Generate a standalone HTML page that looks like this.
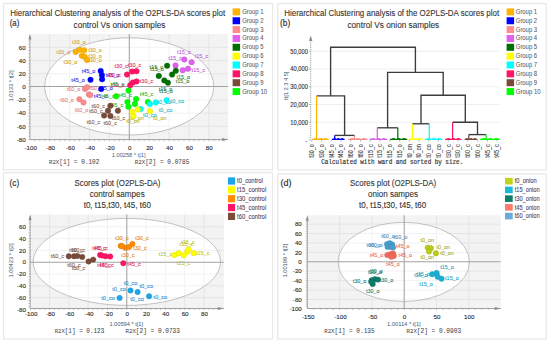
<!DOCTYPE html>
<html><head><meta charset="utf-8"><style>
html,body{margin:0;padding:0;background:#fff;}
body{width:550px;height:344px;overflow:hidden;font-family:"Liberation Sans", sans-serif;}
svg{display:block;}
</style></head><body>
<svg width="550" height="344" viewBox="0 0 550 344">
<rect width="550" height="344" fill="#fff"/>
<rect x="3.5" y="3.5" width="269.0" height="166.3" fill="#fff" stroke="#e8e8e8" stroke-width="1.25" />
<rect x="277.7" y="3.5" width="268.50000000000006" height="166.3" fill="#fff" stroke="#e8e8e8" stroke-width="1.25" />
<rect x="3.5" y="172.6" width="269.0" height="166.4" fill="#fff" stroke="#e8e8e8" stroke-width="1.25" />
<rect x="277.7" y="174" width="268.50000000000006" height="165" fill="#fff" stroke="#e8e8e8" stroke-width="1.25" />
<text x="10.2" y="15.7" font-size="8.3" fill="#333" stroke="#333" stroke-width="0.1" text-anchor="start" font-family='"Liberation Sans", sans-serif' textLength="215" lengthAdjust="spacingAndGlyphs" >Hierarchical Clustering analysis of the O2PLS-DA scores plot</text>
<text x="9.7" y="26.1" font-size="9.4" fill="#2a2a2a" stroke="#2a2a2a" stroke-width="0.15" text-anchor="start" font-family='"Liberation Sans", sans-serif' textLength="9.6" lengthAdjust="spacingAndGlyphs" >(a)</text>
<text x="73.6" y="27.8" font-size="8.3" fill="#333" stroke="#333" stroke-width="0.1" text-anchor="start" font-family='"Liberation Sans", sans-serif' textLength="91.8" lengthAdjust="spacingAndGlyphs" >control Vs onion samples</text>
<rect x="232.6" y="8.4" width="7.5" height="7" fill="#ffb300" stroke="none" stroke-width="1" />
<text x="242.2" y="13.8" font-size="6.4" fill="#5a5a64" stroke="#5a5a64" stroke-width="0.06" text-anchor="start" font-family='"Liberation Sans", sans-serif' textLength="21.3" lengthAdjust="spacingAndGlyphs" >Group 1</text>
<rect x="232.6" y="17.25" width="7.5" height="7" fill="#0000ff" stroke="none" stroke-width="1" />
<text x="242.2" y="22.6" font-size="6.4" fill="#5a5a64" stroke="#5a5a64" stroke-width="0.06" text-anchor="start" font-family='"Liberation Sans", sans-serif' textLength="21.3" lengthAdjust="spacingAndGlyphs" >Group 2</text>
<rect x="232.6" y="26.1" width="7.5" height="7" fill="#ff8c8c" stroke="none" stroke-width="1" />
<text x="242.2" y="31.5" font-size="6.4" fill="#5a5a64" stroke="#5a5a64" stroke-width="0.06" text-anchor="start" font-family='"Liberation Sans", sans-serif' textLength="21.3" lengthAdjust="spacingAndGlyphs" >Group 3</text>
<rect x="232.6" y="34.949999999999996" width="7.5" height="7" fill="#e060f0" stroke="none" stroke-width="1" />
<text x="242.2" y="40.3" font-size="6.4" fill="#5a5a64" stroke="#5a5a64" stroke-width="0.06" text-anchor="start" font-family='"Liberation Sans", sans-serif' textLength="21.3" lengthAdjust="spacingAndGlyphs" >Group 4</text>
<rect x="232.6" y="43.8" width="7.5" height="7" fill="#007000" stroke="none" stroke-width="1" />
<text x="242.2" y="49.2" font-size="6.4" fill="#5a5a64" stroke="#5a5a64" stroke-width="0.06" text-anchor="start" font-family='"Liberation Sans", sans-serif' textLength="21.3" lengthAdjust="spacingAndGlyphs" >Group 5</text>
<rect x="232.6" y="52.65" width="7.5" height="7" fill="#ffff00" stroke="none" stroke-width="1" />
<text x="242.2" y="58.0" font-size="6.4" fill="#5a5a64" stroke="#5a5a64" stroke-width="0.06" text-anchor="start" font-family='"Liberation Sans", sans-serif' textLength="21.3" lengthAdjust="spacingAndGlyphs" >Group 6</text>
<rect x="232.6" y="61.49999999999999" width="7.5" height="7" fill="#00ffff" stroke="none" stroke-width="1" />
<text x="242.2" y="66.9" font-size="6.4" fill="#5a5a64" stroke="#5a5a64" stroke-width="0.06" text-anchor="start" font-family='"Liberation Sans", sans-serif' textLength="21.3" lengthAdjust="spacingAndGlyphs" >Group 7</text>
<rect x="232.6" y="70.35" width="7.5" height="7" fill="#ff1466" stroke="none" stroke-width="1" />
<text x="242.2" y="75.8" font-size="6.4" fill="#5a5a64" stroke="#5a5a64" stroke-width="0.06" text-anchor="start" font-family='"Liberation Sans", sans-serif' textLength="21.3" lengthAdjust="spacingAndGlyphs" >Group 8</text>
<rect x="232.6" y="79.2" width="7.5" height="7" fill="#7b4b3a" stroke="none" stroke-width="1" />
<text x="242.2" y="84.6" font-size="6.4" fill="#5a5a64" stroke="#5a5a64" stroke-width="0.06" text-anchor="start" font-family='"Liberation Sans", sans-serif' textLength="21.3" lengthAdjust="spacingAndGlyphs" >Group 9</text>
<rect x="232.6" y="88.05" width="7.5" height="7" fill="#00ff00" stroke="none" stroke-width="1" />
<text x="242.2" y="93.5" font-size="6.4" fill="#5a5a64" stroke="#5a5a64" stroke-width="0.06" text-anchor="start" font-family='"Liberation Sans", sans-serif' textLength="24.9" lengthAdjust="spacingAndGlyphs" >Group 10</text>
<rect x="29.9" y="34" width="198.1" height="105.6" fill="#f3f3f3" stroke="none" stroke-width="1" />
<line x1="49.70" y1="34.00" x2="49.70" y2="139.60" stroke="#e3e3e3" stroke-width="0.9" />
<line x1="69.60" y1="34.00" x2="69.60" y2="139.60" stroke="#e3e3e3" stroke-width="0.9" />
<line x1="89.50" y1="34.00" x2="89.50" y2="139.60" stroke="#e3e3e3" stroke-width="0.9" />
<line x1="109.40" y1="34.00" x2="109.40" y2="139.60" stroke="#e3e3e3" stroke-width="0.9" />
<line x1="149.20" y1="34.00" x2="149.20" y2="139.60" stroke="#e3e3e3" stroke-width="0.9" />
<line x1="169.10" y1="34.00" x2="169.10" y2="139.60" stroke="#e3e3e3" stroke-width="0.9" />
<line x1="189.00" y1="34.00" x2="189.00" y2="139.60" stroke="#e3e3e3" stroke-width="0.9" />
<line x1="208.90" y1="34.00" x2="208.90" y2="139.60" stroke="#e3e3e3" stroke-width="0.9" />
<line x1="29.90" y1="126.40" x2="228.00" y2="126.40" stroke="#e3e3e3" stroke-width="0.9" />
<line x1="29.90" y1="113.23" x2="228.00" y2="113.23" stroke="#e3e3e3" stroke-width="0.9" />
<line x1="29.90" y1="100.07" x2="228.00" y2="100.07" stroke="#e3e3e3" stroke-width="0.9" />
<line x1="29.90" y1="73.73" x2="228.00" y2="73.73" stroke="#e3e3e3" stroke-width="0.9" />
<line x1="29.90" y1="60.57" x2="228.00" y2="60.57" stroke="#e3e3e3" stroke-width="0.9" />
<line x1="29.90" y1="47.40" x2="228.00" y2="47.40" stroke="#e3e3e3" stroke-width="0.9" />
<clipPath id="ec1"><ellipse cx="129.2" cy="86.4" rx="84.5" ry="48.6"/></clipPath>
<ellipse cx="129.2" cy="86.4" rx="84.5" ry="48.6" fill="#fff"/>
<g clip-path="url(#ec1)">
<line x1="49.70" y1="34.00" x2="49.70" y2="139.60" stroke="#f1f1f1" stroke-width="0.9" />
<line x1="69.60" y1="34.00" x2="69.60" y2="139.60" stroke="#f1f1f1" stroke-width="0.9" />
<line x1="89.50" y1="34.00" x2="89.50" y2="139.60" stroke="#f1f1f1" stroke-width="0.9" />
<line x1="109.40" y1="34.00" x2="109.40" y2="139.60" stroke="#f1f1f1" stroke-width="0.9" />
<line x1="149.20" y1="34.00" x2="149.20" y2="139.60" stroke="#f1f1f1" stroke-width="0.9" />
<line x1="169.10" y1="34.00" x2="169.10" y2="139.60" stroke="#f1f1f1" stroke-width="0.9" />
<line x1="189.00" y1="34.00" x2="189.00" y2="139.60" stroke="#f1f1f1" stroke-width="0.9" />
<line x1="208.90" y1="34.00" x2="208.90" y2="139.60" stroke="#f1f1f1" stroke-width="0.9" />
<line x1="29.90" y1="126.40" x2="228.00" y2="126.40" stroke="#f1f1f1" stroke-width="0.9" />
<line x1="29.90" y1="113.23" x2="228.00" y2="113.23" stroke="#f1f1f1" stroke-width="0.9" />
<line x1="29.90" y1="100.07" x2="228.00" y2="100.07" stroke="#f1f1f1" stroke-width="0.9" />
<line x1="29.90" y1="73.73" x2="228.00" y2="73.73" stroke="#f1f1f1" stroke-width="0.9" />
<line x1="29.90" y1="60.57" x2="228.00" y2="60.57" stroke="#f1f1f1" stroke-width="0.9" />
<line x1="29.90" y1="47.40" x2="228.00" y2="47.40" stroke="#f1f1f1" stroke-width="0.9" />
</g>
<ellipse cx="129.2" cy="86.4" rx="84.5" ry="48.6" fill="none" stroke="#bababa" stroke-width="0.9"/>
<line x1="129.30" y1="34.00" x2="129.30" y2="139.60" stroke="#a2a2a2" stroke-width="1.05" />
<line x1="29.90" y1="86.50" x2="228.00" y2="86.50" stroke="#a2a2a2" stroke-width="1.05" />
<line x1="29.90" y1="36.00" x2="29.90" y2="139.60" stroke="#8c8c8c" stroke-width="0.8" />
<line x1="29.90" y1="139.60" x2="228.00" y2="139.60" stroke="#8c8c8c" stroke-width="0.8" />
<path d="M28.4,39.5 L29.9,34 L31.4,39.5 Z" fill="#8c8c8c"/>
<path d="M222.0,138.1 L228.0,139.6 L222.0,141.1 Z" fill="#8c8c8c"/>
<line x1="34.78" y1="139.60" x2="34.78" y2="141.20" stroke="#a0a0a0" stroke-width="0.6" />
<line x1="39.75" y1="139.60" x2="39.75" y2="141.20" stroke="#a0a0a0" stroke-width="0.6" />
<line x1="44.73" y1="139.60" x2="44.73" y2="141.20" stroke="#a0a0a0" stroke-width="0.6" />
<line x1="49.70" y1="139.60" x2="49.70" y2="141.20" stroke="#a0a0a0" stroke-width="0.6" />
<line x1="54.68" y1="139.60" x2="54.68" y2="141.20" stroke="#a0a0a0" stroke-width="0.6" />
<line x1="59.65" y1="139.60" x2="59.65" y2="141.20" stroke="#a0a0a0" stroke-width="0.6" />
<line x1="64.63" y1="139.60" x2="64.63" y2="141.20" stroke="#a0a0a0" stroke-width="0.6" />
<line x1="69.60" y1="139.60" x2="69.60" y2="141.20" stroke="#a0a0a0" stroke-width="0.6" />
<line x1="74.58" y1="139.60" x2="74.58" y2="141.20" stroke="#a0a0a0" stroke-width="0.6" />
<line x1="79.55" y1="139.60" x2="79.55" y2="141.20" stroke="#a0a0a0" stroke-width="0.6" />
<line x1="84.53" y1="139.60" x2="84.53" y2="141.20" stroke="#a0a0a0" stroke-width="0.6" />
<line x1="89.50" y1="139.60" x2="89.50" y2="141.20" stroke="#a0a0a0" stroke-width="0.6" />
<line x1="94.48" y1="139.60" x2="94.48" y2="141.20" stroke="#a0a0a0" stroke-width="0.6" />
<line x1="99.45" y1="139.60" x2="99.45" y2="141.20" stroke="#a0a0a0" stroke-width="0.6" />
<line x1="104.43" y1="139.60" x2="104.43" y2="141.20" stroke="#a0a0a0" stroke-width="0.6" />
<line x1="109.40" y1="139.60" x2="109.40" y2="141.20" stroke="#a0a0a0" stroke-width="0.6" />
<line x1="114.38" y1="139.60" x2="114.38" y2="141.20" stroke="#a0a0a0" stroke-width="0.6" />
<line x1="119.35" y1="139.60" x2="119.35" y2="141.20" stroke="#a0a0a0" stroke-width="0.6" />
<line x1="124.33" y1="139.60" x2="124.33" y2="141.20" stroke="#a0a0a0" stroke-width="0.6" />
<line x1="129.30" y1="139.60" x2="129.30" y2="141.20" stroke="#a0a0a0" stroke-width="0.6" />
<line x1="134.28" y1="139.60" x2="134.28" y2="141.20" stroke="#a0a0a0" stroke-width="0.6" />
<line x1="139.25" y1="139.60" x2="139.25" y2="141.20" stroke="#a0a0a0" stroke-width="0.6" />
<line x1="144.23" y1="139.60" x2="144.23" y2="141.20" stroke="#a0a0a0" stroke-width="0.6" />
<line x1="149.20" y1="139.60" x2="149.20" y2="141.20" stroke="#a0a0a0" stroke-width="0.6" />
<line x1="154.18" y1="139.60" x2="154.18" y2="141.20" stroke="#a0a0a0" stroke-width="0.6" />
<line x1="159.15" y1="139.60" x2="159.15" y2="141.20" stroke="#a0a0a0" stroke-width="0.6" />
<line x1="164.12" y1="139.60" x2="164.12" y2="141.20" stroke="#a0a0a0" stroke-width="0.6" />
<line x1="169.10" y1="139.60" x2="169.10" y2="141.20" stroke="#a0a0a0" stroke-width="0.6" />
<line x1="174.08" y1="139.60" x2="174.08" y2="141.20" stroke="#a0a0a0" stroke-width="0.6" />
<line x1="179.05" y1="139.60" x2="179.05" y2="141.20" stroke="#a0a0a0" stroke-width="0.6" />
<line x1="184.03" y1="139.60" x2="184.03" y2="141.20" stroke="#a0a0a0" stroke-width="0.6" />
<line x1="189.00" y1="139.60" x2="189.00" y2="141.20" stroke="#a0a0a0" stroke-width="0.6" />
<line x1="193.98" y1="139.60" x2="193.98" y2="141.20" stroke="#a0a0a0" stroke-width="0.6" />
<line x1="198.95" y1="139.60" x2="198.95" y2="141.20" stroke="#a0a0a0" stroke-width="0.6" />
<line x1="203.93" y1="139.60" x2="203.93" y2="141.20" stroke="#a0a0a0" stroke-width="0.6" />
<line x1="208.90" y1="139.60" x2="208.90" y2="141.20" stroke="#a0a0a0" stroke-width="0.6" />
<line x1="213.88" y1="139.60" x2="213.88" y2="141.20" stroke="#a0a0a0" stroke-width="0.6" />
<line x1="218.85" y1="139.60" x2="218.85" y2="141.20" stroke="#a0a0a0" stroke-width="0.6" />
<line x1="223.83" y1="139.60" x2="223.83" y2="141.20" stroke="#a0a0a0" stroke-width="0.6" />
<line x1="28.30" y1="139.56" x2="29.90" y2="139.56" stroke="#a0a0a0" stroke-width="0.6" />
<line x1="28.30" y1="136.27" x2="29.90" y2="136.27" stroke="#a0a0a0" stroke-width="0.6" />
<line x1="28.30" y1="132.98" x2="29.90" y2="132.98" stroke="#a0a0a0" stroke-width="0.6" />
<line x1="28.30" y1="129.69" x2="29.90" y2="129.69" stroke="#a0a0a0" stroke-width="0.6" />
<line x1="28.30" y1="126.40" x2="29.90" y2="126.40" stroke="#a0a0a0" stroke-width="0.6" />
<line x1="28.30" y1="123.11" x2="29.90" y2="123.11" stroke="#a0a0a0" stroke-width="0.6" />
<line x1="28.30" y1="119.81" x2="29.90" y2="119.81" stroke="#a0a0a0" stroke-width="0.6" />
<line x1="28.30" y1="116.52" x2="29.90" y2="116.52" stroke="#a0a0a0" stroke-width="0.6" />
<line x1="28.30" y1="113.23" x2="29.90" y2="113.23" stroke="#a0a0a0" stroke-width="0.6" />
<line x1="28.30" y1="109.94" x2="29.90" y2="109.94" stroke="#a0a0a0" stroke-width="0.6" />
<line x1="28.30" y1="106.65" x2="29.90" y2="106.65" stroke="#a0a0a0" stroke-width="0.6" />
<line x1="28.30" y1="103.36" x2="29.90" y2="103.36" stroke="#a0a0a0" stroke-width="0.6" />
<line x1="28.30" y1="100.07" x2="29.90" y2="100.07" stroke="#a0a0a0" stroke-width="0.6" />
<line x1="28.30" y1="96.77" x2="29.90" y2="96.77" stroke="#a0a0a0" stroke-width="0.6" />
<line x1="28.30" y1="93.48" x2="29.90" y2="93.48" stroke="#a0a0a0" stroke-width="0.6" />
<line x1="28.30" y1="90.19" x2="29.90" y2="90.19" stroke="#a0a0a0" stroke-width="0.6" />
<line x1="28.30" y1="86.90" x2="29.90" y2="86.90" stroke="#a0a0a0" stroke-width="0.6" />
<line x1="28.30" y1="83.61" x2="29.90" y2="83.61" stroke="#a0a0a0" stroke-width="0.6" />
<line x1="28.30" y1="80.32" x2="29.90" y2="80.32" stroke="#a0a0a0" stroke-width="0.6" />
<line x1="28.30" y1="77.03" x2="29.90" y2="77.03" stroke="#a0a0a0" stroke-width="0.6" />
<line x1="28.30" y1="73.73" x2="29.90" y2="73.73" stroke="#a0a0a0" stroke-width="0.6" />
<line x1="28.30" y1="70.44" x2="29.90" y2="70.44" stroke="#a0a0a0" stroke-width="0.6" />
<line x1="28.30" y1="67.15" x2="29.90" y2="67.15" stroke="#a0a0a0" stroke-width="0.6" />
<line x1="28.30" y1="63.86" x2="29.90" y2="63.86" stroke="#a0a0a0" stroke-width="0.6" />
<line x1="28.30" y1="60.57" x2="29.90" y2="60.57" stroke="#a0a0a0" stroke-width="0.6" />
<line x1="28.30" y1="57.28" x2="29.90" y2="57.28" stroke="#a0a0a0" stroke-width="0.6" />
<line x1="28.30" y1="53.99" x2="29.90" y2="53.99" stroke="#a0a0a0" stroke-width="0.6" />
<line x1="28.30" y1="50.69" x2="29.90" y2="50.69" stroke="#a0a0a0" stroke-width="0.6" />
<line x1="28.30" y1="47.40" x2="29.90" y2="47.40" stroke="#a0a0a0" stroke-width="0.6" />
<line x1="28.30" y1="44.11" x2="29.90" y2="44.11" stroke="#a0a0a0" stroke-width="0.6" />
<line x1="28.30" y1="40.82" x2="29.90" y2="40.82" stroke="#a0a0a0" stroke-width="0.6" />
<text x="30.7" y="150.4" font-size="6.2" fill="#2c2c2c" stroke="#2c2c2c" stroke-width="0.12" text-anchor="middle" font-family='"Liberation Sans", sans-serif' >-100</text>
<text x="50.6" y="150.4" font-size="6.2" fill="#2c2c2c" stroke="#2c2c2c" stroke-width="0.12" text-anchor="middle" font-family='"Liberation Sans", sans-serif' >-80</text>
<text x="70.5" y="150.4" font-size="6.2" fill="#2c2c2c" stroke="#2c2c2c" stroke-width="0.12" text-anchor="middle" font-family='"Liberation Sans", sans-serif' >-60</text>
<text x="90.4" y="150.4" font-size="6.2" fill="#2c2c2c" stroke="#2c2c2c" stroke-width="0.12" text-anchor="middle" font-family='"Liberation Sans", sans-serif' >-40</text>
<text x="110.3" y="150.4" font-size="6.2" fill="#2c2c2c" stroke="#2c2c2c" stroke-width="0.12" text-anchor="middle" font-family='"Liberation Sans", sans-serif' >-20</text>
<text x="129.7" y="150.4" font-size="6.2" fill="#2c2c2c" stroke="#2c2c2c" stroke-width="0.12" text-anchor="middle" font-family='"Liberation Sans", sans-serif' >0</text>
<text x="149.6" y="150.4" font-size="6.2" fill="#2c2c2c" stroke="#2c2c2c" stroke-width="0.12" text-anchor="middle" font-family='"Liberation Sans", sans-serif' >20</text>
<text x="169.5" y="150.4" font-size="6.2" fill="#2c2c2c" stroke="#2c2c2c" stroke-width="0.12" text-anchor="middle" font-family='"Liberation Sans", sans-serif' >40</text>
<text x="189.4" y="150.4" font-size="6.2" fill="#2c2c2c" stroke="#2c2c2c" stroke-width="0.12" text-anchor="middle" font-family='"Liberation Sans", sans-serif' >60</text>
<text x="209.3" y="150.4" font-size="6.2" fill="#2c2c2c" stroke="#2c2c2c" stroke-width="0.12" text-anchor="middle" font-family='"Liberation Sans", sans-serif' >80</text>
<text x="25.6" y="49.5" font-size="6.2" fill="#2c2c2c" stroke="#2c2c2c" stroke-width="0.12" text-anchor="end" font-family='"Liberation Sans", sans-serif' >60</text>
<text x="25.6" y="62.7" font-size="6.2" fill="#2c2c2c" stroke="#2c2c2c" stroke-width="0.12" text-anchor="end" font-family='"Liberation Sans", sans-serif' >40</text>
<text x="25.6" y="75.8" font-size="6.2" fill="#2c2c2c" stroke="#2c2c2c" stroke-width="0.12" text-anchor="end" font-family='"Liberation Sans", sans-serif' >20</text>
<text x="25.6" y="89.0" font-size="6.2" fill="#2c2c2c" stroke="#2c2c2c" stroke-width="0.12" text-anchor="end" font-family='"Liberation Sans", sans-serif' >0</text>
<text x="25.6" y="102.2" font-size="6.2" fill="#2c2c2c" stroke="#2c2c2c" stroke-width="0.12" text-anchor="end" font-family='"Liberation Sans", sans-serif' >-20</text>
<text x="25.6" y="115.3" font-size="6.2" fill="#2c2c2c" stroke="#2c2c2c" stroke-width="0.12" text-anchor="end" font-family='"Liberation Sans", sans-serif' >-40</text>
<text x="25.6" y="128.5" font-size="6.2" fill="#2c2c2c" stroke="#2c2c2c" stroke-width="0.12" text-anchor="end" font-family='"Liberation Sans", sans-serif' >-60</text>
<text x="25.6" y="141.7" font-size="6.2" fill="#2c2c2c" stroke="#2c2c2c" stroke-width="0.12" text-anchor="end" font-family='"Liberation Sans", sans-serif' >-80</text>
<text x="111.8" y="157" font-size="5.6" fill="#4a5a7a" text-anchor="start" font-family='"Liberation Sans", sans-serif' textLength="33.7" lengthAdjust="spacingAndGlyphs" >1.00258 * t[1]</text>
<text transform="translate(13.2,86) rotate(-90)" font-size="5.4" fill="#2a5070" text-anchor="middle" font-family='"Liberation Sans", sans-serif' textLength="31" lengthAdjust="spacingAndGlyphs">1.0133 * t[2]</text>
<text x="49" y="163.5" font-size="6.3" fill="#4a4a4a" stroke="#4a4a4a" stroke-width="0.05" font-family='"Liberation Mono", monospace' textLength="50.4" lengthAdjust="spacingAndGlyphs"><tspan font-size="5.9">R2X</tspan>[1] = 0.102</text>
<text x="134.8" y="163.5" font-size="6.3" fill="#4a4a4a" stroke="#4a4a4a" stroke-width="0.05" font-family='"Liberation Mono", monospace' textLength="54.6" lengthAdjust="spacingAndGlyphs"><tspan font-size="5.9">R2X</tspan>[2] = 0.0785</text>
<text x="78.9" y="44.4" font-size="6.2" fill="#d4a020" stroke="#d4a020" stroke-width="0.08" text-anchor="middle" font-family='"Liberation Sans", sans-serif' textLength="13.6" lengthAdjust="spacingAndGlyphs" >t30_o</text>
<text x="63.4" y="53.5" font-size="6.2" fill="#d4a020" stroke="#d4a020" stroke-width="0.08" text-anchor="middle" font-family='"Liberation Sans", sans-serif' textLength="13.6" lengthAdjust="spacingAndGlyphs" >t30_o</text>
<text x="95.0" y="52.2" font-size="6.2" fill="#d4a020" stroke="#d4a020" stroke-width="0.08" text-anchor="middle" font-family='"Liberation Sans", sans-serif' textLength="13.6" lengthAdjust="spacingAndGlyphs" >t30_o</text>
<text x="70.4" y="64.4" font-size="6.2" fill="#d4a020" stroke="#d4a020" stroke-width="0.08" text-anchor="middle" font-family='"Liberation Sans", sans-serif' textLength="13.6" lengthAdjust="spacingAndGlyphs" >t30_o</text>
<text x="95.0" y="57.9" font-size="6.2" fill="#d4a020" stroke="#d4a020" stroke-width="0.08" text-anchor="middle" font-family='"Liberation Sans", sans-serif' textLength="13.6" lengthAdjust="spacingAndGlyphs" >t30_o</text>
<text x="95.0" y="61.9" font-size="6.2" fill="#d4a020" stroke="#d4a020" stroke-width="0.08" text-anchor="middle" font-family='"Liberation Sans", sans-serif' textLength="13.6" lengthAdjust="spacingAndGlyphs" >t30_o</text>
<text x="88.6" y="73.0" font-size="6.2" fill="#2020ee" stroke="#2020ee" stroke-width="0.08" text-anchor="middle" font-family='"Liberation Sans", sans-serif' textLength="13.6" lengthAdjust="spacingAndGlyphs" >t45_o</text>
<text x="78.0" y="81.9" font-size="6.2" fill="#2020ee" stroke="#2020ee" stroke-width="0.08" text-anchor="middle" font-family='"Liberation Sans", sans-serif' textLength="13.6" lengthAdjust="spacingAndGlyphs" >t45_o</text>
<text x="112.6" y="77.0" font-size="6.2" fill="#2020ee" stroke="#2020ee" stroke-width="0.08" text-anchor="middle" font-family='"Liberation Sans", sans-serif' textLength="13.6" lengthAdjust="spacingAndGlyphs" >t45_o</text>
<text x="100.5" y="97.8" font-size="6.2" fill="#2020ee" stroke="#2020ee" stroke-width="0.08" text-anchor="middle" font-family='"Liberation Sans", sans-serif' textLength="13.6" lengthAdjust="spacingAndGlyphs" >t45_o</text>
<text x="106.0" y="90.2" font-size="6.2" fill="#2020ee" stroke="#2020ee" stroke-width="0.08" text-anchor="middle" font-family='"Liberation Sans", sans-serif' textLength="13.6" lengthAdjust="spacingAndGlyphs" >t45_o</text>
<text x="96.0" y="89.7" font-size="6.2" fill="#e08080" stroke="#e08080" stroke-width="0.08" text-anchor="middle" font-family='"Liberation Sans", sans-serif' textLength="13.6" lengthAdjust="spacingAndGlyphs" >t60_o</text>
<text x="73.6" y="91.3" font-size="6.2" fill="#e08080" stroke="#e08080" stroke-width="0.08" text-anchor="middle" font-family='"Liberation Sans", sans-serif' textLength="13.6" lengthAdjust="spacingAndGlyphs" >t60_o</text>
<text x="67.0" y="101.5" font-size="6.2" fill="#e08080" stroke="#e08080" stroke-width="0.08" text-anchor="middle" font-family='"Liberation Sans", sans-serif' textLength="13.6" lengthAdjust="spacingAndGlyphs" >t60_o</text>
<text x="81.6" y="112.1" font-size="6.2" fill="#e08080" stroke="#e08080" stroke-width="0.08" text-anchor="middle" font-family='"Liberation Sans", sans-serif' textLength="13.6" lengthAdjust="spacingAndGlyphs" >t60_o</text>
<text x="183.9" y="53.8" font-size="6.2" fill="#c050d8" stroke="#c050d8" stroke-width="0.08" text-anchor="middle" font-family='"Liberation Sans", sans-serif' textLength="13.6" lengthAdjust="spacingAndGlyphs" >t15_c</text>
<text x="201.4" y="57.9" font-size="6.2" fill="#c050d8" stroke="#c050d8" stroke-width="0.08" text-anchor="middle" font-family='"Liberation Sans", sans-serif' textLength="13.6" lengthAdjust="spacingAndGlyphs" >t15_c</text>
<text x="175.2" y="60.1" font-size="6.2" fill="#c050d8" stroke="#c050d8" stroke-width="0.08" text-anchor="middle" font-family='"Liberation Sans", sans-serif' textLength="13.6" lengthAdjust="spacingAndGlyphs" >t15_c</text>
<text x="198.4" y="71.7" font-size="6.2" fill="#c050d8" stroke="#c050d8" stroke-width="0.08" text-anchor="middle" font-family='"Liberation Sans", sans-serif' textLength="13.6" lengthAdjust="spacingAndGlyphs" >t15_c</text>
<text x="156.4" y="68.9" font-size="6.2" fill="#2a7a2a" stroke="#2a7a2a" stroke-width="0.08" text-anchor="middle" font-family='"Liberation Sans", sans-serif' textLength="13.6" lengthAdjust="spacingAndGlyphs" >t15_o</text>
<text x="157.0" y="71.4" font-size="6.2" fill="#2a7a2a" stroke="#2a7a2a" stroke-width="0.08" text-anchor="middle" font-family='"Liberation Sans", sans-serif' textLength="13.6" lengthAdjust="spacingAndGlyphs" >t15_o</text>
<text x="183.2" y="79.4" font-size="6.2" fill="#2a7a2a" stroke="#2a7a2a" stroke-width="0.08" text-anchor="middle" font-family='"Liberation Sans", sans-serif' textLength="13.6" lengthAdjust="spacingAndGlyphs" >t15_o</text>
<text x="182.5" y="82.9" font-size="6.2" fill="#2a7a2a" stroke="#2a7a2a" stroke-width="0.08" text-anchor="middle" font-family='"Liberation Sans", sans-serif' textLength="13.6" lengthAdjust="spacingAndGlyphs" >t15_o</text>
<text x="165.6" y="91.2" font-size="6.2" fill="#2a7a2a" stroke="#2a7a2a" stroke-width="0.08" text-anchor="middle" font-family='"Liberation Sans", sans-serif' textLength="13.6" lengthAdjust="spacingAndGlyphs" >t15_o</text>
<text x="166.0" y="93.4" font-size="6.2" fill="#2a7a2a" stroke="#2a7a2a" stroke-width="0.08" text-anchor="middle" font-family='"Liberation Sans", sans-serif' textLength="13.6" lengthAdjust="spacingAndGlyphs" >t15_o</text>
<text x="121.3" y="67.7" font-size="6.2" fill="#e0205a" stroke="#e0205a" stroke-width="0.08" text-anchor="middle" font-family='"Liberation Sans", sans-serif' textLength="13.6" lengthAdjust="spacingAndGlyphs" >t30_c</text>
<text x="134.6" y="66.6" font-size="6.2" fill="#e0205a" stroke="#e0205a" stroke-width="0.08" text-anchor="middle" font-family='"Liberation Sans", sans-serif' textLength="13.6" lengthAdjust="spacingAndGlyphs" >t30_c</text>
<text x="114.0" y="77.4" font-size="6.2" fill="#e0205a" stroke="#e0205a" stroke-width="0.08" text-anchor="middle" font-family='"Liberation Sans", sans-serif' textLength="13.6" lengthAdjust="spacingAndGlyphs" >t30_c</text>
<text x="146.6" y="83.3" font-size="6.2" fill="#e0205a" stroke="#e0205a" stroke-width="0.08" text-anchor="middle" font-family='"Liberation Sans", sans-serif' textLength="13.6" lengthAdjust="spacingAndGlyphs" >t30_c</text>
<text x="118.0" y="87.2" font-size="6.2" fill="#e0205a" stroke="#e0205a" stroke-width="0.08" text-anchor="middle" font-family='"Liberation Sans", sans-serif' textLength="13.6" lengthAdjust="spacingAndGlyphs" >t30_c</text>
<text x="98.3" y="108.0" font-size="6.2" fill="#7a5a4a" stroke="#7a5a4a" stroke-width="0.08" text-anchor="middle" font-family='"Liberation Sans", sans-serif' textLength="13.6" lengthAdjust="spacingAndGlyphs" >t60_c</text>
<text x="96.1" y="112.8" font-size="6.2" fill="#7a5a4a" stroke="#7a5a4a" stroke-width="0.08" text-anchor="middle" font-family='"Liberation Sans", sans-serif' textLength="13.6" lengthAdjust="spacingAndGlyphs" >t60_c</text>
<text x="93.6" y="123.9" font-size="6.2" fill="#7a5a4a" stroke="#7a5a4a" stroke-width="0.08" text-anchor="middle" font-family='"Liberation Sans", sans-serif' textLength="13.6" lengthAdjust="spacingAndGlyphs" >t60_c</text>
<text x="110.2" y="124.9" font-size="6.2" fill="#7a5a4a" stroke="#7a5a4a" stroke-width="0.08" text-anchor="middle" font-family='"Liberation Sans", sans-serif' textLength="13.6" lengthAdjust="spacingAndGlyphs" >t60_c</text>
<text x="118.6" y="120.3" font-size="6.2" fill="#7a5a4a" stroke="#7a5a4a" stroke-width="0.08" text-anchor="middle" font-family='"Liberation Sans", sans-serif' textLength="13.6" lengthAdjust="spacingAndGlyphs" >t60_c</text>
<text x="117.2" y="85.7" font-size="6.2" fill="#20b020" stroke="#20b020" stroke-width="0.08" text-anchor="middle" font-family='"Liberation Sans", sans-serif' textLength="13.6" lengthAdjust="spacingAndGlyphs" >t45_c</text>
<text x="125.2" y="97.1" font-size="6.2" fill="#20b020" stroke="#20b020" stroke-width="0.08" text-anchor="middle" font-family='"Liberation Sans", sans-serif' textLength="13.6" lengthAdjust="spacingAndGlyphs" >t45_c</text>
<text x="116.5" y="107.2" font-size="6.2" fill="#20b020" stroke="#20b020" stroke-width="0.08" text-anchor="middle" font-family='"Liberation Sans", sans-serif' textLength="13.6" lengthAdjust="spacingAndGlyphs" >t45_c</text>
<text x="146.6" y="95.9" font-size="6.2" fill="#20b020" stroke="#20b020" stroke-width="0.08" text-anchor="middle" font-family='"Liberation Sans", sans-serif' textLength="13.6" lengthAdjust="spacingAndGlyphs" >t45_c</text>
<text x="108.0" y="97.9" font-size="6.2" fill="#20b020" stroke="#20b020" stroke-width="0.08" text-anchor="middle" font-family='"Liberation Sans", sans-serif' textLength="13.6" lengthAdjust="spacingAndGlyphs" >t45_c</text>
<text x="164.3" y="103.7" font-size="6.2" fill="#10b8c0" stroke="#10b8c0" stroke-width="0.08" text-anchor="middle" font-family='"Liberation Sans", sans-serif' textLength="13.6" lengthAdjust="spacingAndGlyphs" >t0_co</text>
<text x="177.4" y="103.0" font-size="6.2" fill="#10b8c0" stroke="#10b8c0" stroke-width="0.08" text-anchor="middle" font-family='"Liberation Sans", sans-serif' textLength="13.6" lengthAdjust="spacingAndGlyphs" >t0_co</text>
<text x="165.6" y="111.5" font-size="6.2" fill="#10b8c0" stroke="#10b8c0" stroke-width="0.08" text-anchor="middle" font-family='"Liberation Sans", sans-serif' textLength="13.6" lengthAdjust="spacingAndGlyphs" >t0_co</text>
<text x="149.9" y="117.4" font-size="6.2" fill="#10b8c0" stroke="#10b8c0" stroke-width="0.08" text-anchor="middle" font-family='"Liberation Sans", sans-serif' textLength="13.6" lengthAdjust="spacingAndGlyphs" >t0_co</text>
<text x="159.7" y="120.0" font-size="6.2" fill="#b8b020" stroke="#b8b020" stroke-width="0.08" text-anchor="middle" font-family='"Liberation Sans", sans-serif' textLength="13.6" lengthAdjust="spacingAndGlyphs" >t0_on</text>
<text x="137.0" y="119.9" font-size="6.2" fill="#b8b020" stroke="#b8b020" stroke-width="0.08" text-anchor="middle" font-family='"Liberation Sans", sans-serif' textLength="13.6" lengthAdjust="spacingAndGlyphs" >t0_on</text>
<text x="133.0" y="122.9" font-size="6.2" fill="#b8b020" stroke="#b8b020" stroke-width="0.08" text-anchor="middle" font-family='"Liberation Sans", sans-serif' textLength="13.6" lengthAdjust="spacingAndGlyphs" >t0_on</text>
<circle cx="75.6" cy="51.9" r="2.75" fill="#ffb300" stroke="#d89800" stroke-width="0.45"/>
<circle cx="79.7" cy="49.8" r="2.75" fill="#ffb300" stroke="#d89800" stroke-width="0.45"/>
<circle cx="84.2" cy="50.3" r="2.75" fill="#ffb300" stroke="#d89800" stroke-width="0.45"/>
<circle cx="81.8" cy="55.7" r="2.75" fill="#ffb300" stroke="#d89800" stroke-width="0.45"/>
<circle cx="84.7" cy="56.8" r="2.75" fill="#ffb300" stroke="#d89800" stroke-width="0.45"/>
<circle cx="87.0" cy="60.0" r="2.75" fill="#ffb300" stroke="#d89800" stroke-width="0.45"/>
<circle cx="100.7" cy="71.0" r="2.75" fill="#0000ff" stroke="#0000d8" stroke-width="0.45"/>
<circle cx="101.9" cy="75.1" r="2.75" fill="#0000ff" stroke="#0000d8" stroke-width="0.45"/>
<circle cx="102.1" cy="79.2" r="2.75" fill="#0000ff" stroke="#0000d8" stroke-width="0.45"/>
<circle cx="90.5" cy="79.8" r="2.75" fill="#0000ff" stroke="#0000d8" stroke-width="0.45"/>
<circle cx="101.2" cy="89.1" r="2.75" fill="#0000ff" stroke="#0000d8" stroke-width="0.45"/>
<circle cx="84.9" cy="89.0" r="2.75" fill="#ff8c8c" stroke="#d87777" stroke-width="0.45"/>
<circle cx="88.9" cy="94.5" r="2.75" fill="#ff8c8c" stroke="#d87777" stroke-width="0.45"/>
<circle cx="79.4" cy="99.3" r="2.75" fill="#ff8c8c" stroke="#d87777" stroke-width="0.45"/>
<circle cx="83.5" cy="102.5" r="2.75" fill="#ff8c8c" stroke="#d87777" stroke-width="0.45"/>
<circle cx="87.0" cy="87.3" r="2.75" fill="#ff8c8c" stroke="#d87777" stroke-width="0.45"/>
<circle cx="90.3" cy="94.9" r="2.75" fill="#ff8c8c" stroke="#d87777" stroke-width="0.45"/>
<circle cx="184.3" cy="59.6" r="2.75" fill="#e060f0" stroke="#be51cc" stroke-width="0.45"/>
<circle cx="191.6" cy="62.2" r="2.75" fill="#e060f0" stroke="#be51cc" stroke-width="0.45"/>
<circle cx="175.5" cy="65.4" r="2.75" fill="#e060f0" stroke="#be51cc" stroke-width="0.45"/>
<circle cx="182.7" cy="70.2" r="2.75" fill="#e060f0" stroke="#be51cc" stroke-width="0.45"/>
<circle cx="188.0" cy="68.8" r="2.75" fill="#e060f0" stroke="#be51cc" stroke-width="0.45"/>
<circle cx="167.1" cy="65.7" r="2.75" fill="#007000" stroke="#005f00" stroke-width="0.45"/>
<circle cx="175.8" cy="70.7" r="2.75" fill="#007000" stroke="#005f00" stroke-width="0.45"/>
<circle cx="172.1" cy="74.6" r="2.75" fill="#007000" stroke="#005f00" stroke-width="0.45"/>
<circle cx="158.8" cy="75.9" r="2.75" fill="#007000" stroke="#005f00" stroke-width="0.45"/>
<circle cx="164.3" cy="80.4" r="2.75" fill="#007000" stroke="#005f00" stroke-width="0.45"/>
<circle cx="167.9" cy="82.7" r="2.75" fill="#007000" stroke="#005f00" stroke-width="0.45"/>
<circle cx="127.0" cy="74.6" r="2.75" fill="#ff1466" stroke="#d81156" stroke-width="0.45"/>
<circle cx="132.2" cy="71.6" r="2.75" fill="#ff1466" stroke="#d81156" stroke-width="0.45"/>
<circle cx="136.5" cy="71.2" r="2.75" fill="#ff1466" stroke="#d81156" stroke-width="0.45"/>
<circle cx="132.9" cy="82.5" r="2.75" fill="#ff1466" stroke="#d81156" stroke-width="0.45"/>
<circle cx="136.5" cy="81.4" r="2.75" fill="#ff1466" stroke="#d81156" stroke-width="0.45"/>
<circle cx="130.2" cy="85.3" r="2.75" fill="#ff1466" stroke="#d81156" stroke-width="0.45"/>
<circle cx="110.4" cy="105.8" r="2.75" fill="#7b4b3a" stroke="#683f31" stroke-width="0.45"/>
<circle cx="108.0" cy="110.7" r="2.75" fill="#7b4b3a" stroke="#683f31" stroke-width="0.45"/>
<circle cx="117.9" cy="110.7" r="2.75" fill="#7b4b3a" stroke="#683f31" stroke-width="0.45"/>
<circle cx="104.1" cy="115.5" r="2.75" fill="#7b4b3a" stroke="#683f31" stroke-width="0.45"/>
<circle cx="110.4" cy="115.9" r="2.75" fill="#7b4b3a" stroke="#683f31" stroke-width="0.45"/>
<circle cx="128.5" cy="90.5" r="2.75" fill="#00ff00" stroke="#00d800" stroke-width="0.45"/>
<circle cx="116.2" cy="96.2" r="2.75" fill="#00ff00" stroke="#00d800" stroke-width="0.45"/>
<circle cx="127.4" cy="102.1" r="2.75" fill="#00ff00" stroke="#00d800" stroke-width="0.45"/>
<circle cx="128.4" cy="106.8" r="2.75" fill="#00ff00" stroke="#00d800" stroke-width="0.45"/>
<circle cx="136.1" cy="99.1" r="2.75" fill="#00ff00" stroke="#00d800" stroke-width="0.45"/>
<circle cx="134.9" cy="103.9" r="2.75" fill="#00ff00" stroke="#00d800" stroke-width="0.45"/>
<circle cx="147.9" cy="102.0" r="2.75" fill="#00ff00" stroke="#00d800" stroke-width="0.45"/>
<circle cx="155.8" cy="102.4" r="2.75" fill="#00ffff" stroke="#00d8d8" stroke-width="0.45"/>
<circle cx="166.6" cy="100.2" r="2.75" fill="#00ffff" stroke="#00d8d8" stroke-width="0.45"/>
<circle cx="149.9" cy="104.1" r="2.75" fill="#00ffff" stroke="#00d8d8" stroke-width="0.45"/>
<circle cx="140.7" cy="109.0" r="2.75" fill="#00ffff" stroke="#00d8d8" stroke-width="0.45"/>
<circle cx="137.8" cy="109.4" r="2.75" fill="#ffff00" stroke="#d8d800" stroke-width="0.45"/>
<circle cx="149.9" cy="111.2" r="2.75" fill="#ffff00" stroke="#d8d800" stroke-width="0.45"/>
<circle cx="132.2" cy="112.0" r="2.75" fill="#ffff00" stroke="#d8d800" stroke-width="0.45"/>
<circle cx="133.5" cy="116.2" r="2.75" fill="#ffff00" stroke="#d8d800" stroke-width="0.45"/>
<text x="284.2" y="15.7" font-size="8.3" fill="#333" stroke="#333" stroke-width="0.1" text-anchor="start" font-family='"Liberation Sans", sans-serif' textLength="215" lengthAdjust="spacingAndGlyphs" >Hierarchical Clustering analysis of the O2PLS-DA scores plot</text>
<text x="280.0" y="25.6" font-size="9.4" fill="#2a2a2a" stroke="#2a2a2a" stroke-width="0.15" text-anchor="start" font-family='"Liberation Sans", sans-serif' textLength="10.2" lengthAdjust="spacingAndGlyphs" >(b)</text>
<text x="347.4" y="27.8" font-size="8.3" fill="#333" stroke="#333" stroke-width="0.1" text-anchor="start" font-family='"Liberation Sans", sans-serif' textLength="91.8" lengthAdjust="spacingAndGlyphs" >control Vs onion samples</text>
<rect x="506.6" y="8.4" width="7.5" height="7" fill="#ffb300" stroke="none" stroke-width="1" />
<text x="515.8" y="13.8" font-size="6.4" fill="#5a5a64" stroke="#5a5a64" stroke-width="0.06" text-anchor="start" font-family='"Liberation Sans", sans-serif' textLength="21.3" lengthAdjust="spacingAndGlyphs" >Group 1</text>
<rect x="506.6" y="17.25" width="7.5" height="7" fill="#0000ff" stroke="none" stroke-width="1" />
<text x="515.8" y="22.6" font-size="6.4" fill="#5a5a64" stroke="#5a5a64" stroke-width="0.06" text-anchor="start" font-family='"Liberation Sans", sans-serif' textLength="21.3" lengthAdjust="spacingAndGlyphs" >Group 2</text>
<rect x="506.6" y="26.1" width="7.5" height="7" fill="#ff8c8c" stroke="none" stroke-width="1" />
<text x="515.8" y="31.5" font-size="6.4" fill="#5a5a64" stroke="#5a5a64" stroke-width="0.06" text-anchor="start" font-family='"Liberation Sans", sans-serif' textLength="21.3" lengthAdjust="spacingAndGlyphs" >Group 3</text>
<rect x="506.6" y="34.949999999999996" width="7.5" height="7" fill="#e060f0" stroke="none" stroke-width="1" />
<text x="515.8" y="40.3" font-size="6.4" fill="#5a5a64" stroke="#5a5a64" stroke-width="0.06" text-anchor="start" font-family='"Liberation Sans", sans-serif' textLength="21.3" lengthAdjust="spacingAndGlyphs" >Group 4</text>
<rect x="506.6" y="43.8" width="7.5" height="7" fill="#007000" stroke="none" stroke-width="1" />
<text x="515.8" y="49.2" font-size="6.4" fill="#5a5a64" stroke="#5a5a64" stroke-width="0.06" text-anchor="start" font-family='"Liberation Sans", sans-serif' textLength="21.3" lengthAdjust="spacingAndGlyphs" >Group 5</text>
<rect x="506.6" y="52.65" width="7.5" height="7" fill="#ffff00" stroke="none" stroke-width="1" />
<text x="515.8" y="58.0" font-size="6.4" fill="#5a5a64" stroke="#5a5a64" stroke-width="0.06" text-anchor="start" font-family='"Liberation Sans", sans-serif' textLength="21.3" lengthAdjust="spacingAndGlyphs" >Group 6</text>
<rect x="506.6" y="61.49999999999999" width="7.5" height="7" fill="#00ffff" stroke="none" stroke-width="1" />
<text x="515.8" y="66.9" font-size="6.4" fill="#5a5a64" stroke="#5a5a64" stroke-width="0.06" text-anchor="start" font-family='"Liberation Sans", sans-serif' textLength="21.3" lengthAdjust="spacingAndGlyphs" >Group 7</text>
<rect x="506.6" y="70.35" width="7.5" height="7" fill="#ff1466" stroke="none" stroke-width="1" />
<text x="515.8" y="75.8" font-size="6.4" fill="#5a5a64" stroke="#5a5a64" stroke-width="0.06" text-anchor="start" font-family='"Liberation Sans", sans-serif' textLength="21.3" lengthAdjust="spacingAndGlyphs" >Group 8</text>
<rect x="506.6" y="79.2" width="7.5" height="7" fill="#7b4b3a" stroke="none" stroke-width="1" />
<text x="515.8" y="84.6" font-size="6.4" fill="#5a5a64" stroke="#5a5a64" stroke-width="0.06" text-anchor="start" font-family='"Liberation Sans", sans-serif' textLength="21.3" lengthAdjust="spacingAndGlyphs" >Group 9</text>
<rect x="506.6" y="88.05" width="7.5" height="7" fill="#00ff00" stroke="none" stroke-width="1" />
<text x="515.8" y="93.5" font-size="6.4" fill="#5a5a64" stroke="#5a5a64" stroke-width="0.06" text-anchor="start" font-family='"Liberation Sans", sans-serif' textLength="24.9" lengthAdjust="spacingAndGlyphs" >Group 10</text>
<line x1="311.00" y1="122.25" x2="500.00" y2="122.25" stroke="rgba(0,0,0,0.07)" stroke-width="0.9" />
<line x1="311.00" y1="104.50" x2="500.00" y2="104.50" stroke="rgba(0,0,0,0.07)" stroke-width="0.9" />
<line x1="311.00" y1="86.75" x2="500.00" y2="86.75" stroke="rgba(0,0,0,0.07)" stroke-width="0.9" />
<line x1="311.00" y1="69.00" x2="500.00" y2="69.00" stroke="rgba(0,0,0,0.07)" stroke-width="0.9" />
<line x1="311.00" y1="51.25" x2="500.00" y2="51.25" stroke="rgba(0,0,0,0.07)" stroke-width="0.9" />
<line x1="310.70" y1="38.00" x2="310.70" y2="139.50" stroke="#888" stroke-width="0.8" stroke-dasharray="1.2,1"/>
<path d="M309,41 L310.7,35.5 L312.4,41 Z" fill="#888"/>
<line x1="308.80" y1="140.00" x2="310.70" y2="140.00" stroke="#888" stroke-width="0.6" />
<text x="308.0" y="124.5" font-size="6.4" fill="#333" stroke="#333" stroke-width="0.12" text-anchor="end" font-family='"Liberation Sans", sans-serif' textLength="17.7" lengthAdjust="spacingAndGlyphs" >10,000</text>
<line x1="308.80" y1="122.25" x2="310.70" y2="122.25" stroke="#888" stroke-width="0.6" />
<text x="308.0" y="106.7" font-size="6.4" fill="#333" stroke="#333" stroke-width="0.12" text-anchor="end" font-family='"Liberation Sans", sans-serif' textLength="17.7" lengthAdjust="spacingAndGlyphs" >20,000</text>
<line x1="308.80" y1="104.50" x2="310.70" y2="104.50" stroke="#888" stroke-width="0.6" />
<text x="308.0" y="89.0" font-size="6.4" fill="#333" stroke="#333" stroke-width="0.12" text-anchor="end" font-family='"Liberation Sans", sans-serif' textLength="17.7" lengthAdjust="spacingAndGlyphs" >30,000</text>
<line x1="308.80" y1="86.75" x2="310.70" y2="86.75" stroke="#888" stroke-width="0.6" />
<text x="308.0" y="71.2" font-size="6.4" fill="#333" stroke="#333" stroke-width="0.12" text-anchor="end" font-family='"Liberation Sans", sans-serif' textLength="17.7" lengthAdjust="spacingAndGlyphs" >40,000</text>
<line x1="308.80" y1="69.00" x2="310.70" y2="69.00" stroke="#888" stroke-width="0.6" />
<text x="308.0" y="53.5" font-size="6.4" fill="#333" stroke="#333" stroke-width="0.12" text-anchor="end" font-family='"Liberation Sans", sans-serif' textLength="17.7" lengthAdjust="spacingAndGlyphs" >50,000</text>
<line x1="308.80" y1="51.25" x2="310.70" y2="51.25" stroke="#888" stroke-width="0.6" />
<text x="306.2" y="142.6" font-size="6.3" fill="#333" text-anchor="middle" font-family='"Liberation Sans", sans-serif' >-</text>
<text transform="translate(287.5,85.8) rotate(-90)" font-size="5.4" fill="#2a5070" text-anchor="middle" font-family='"Liberation Sans", sans-serif' textLength="28.4" lengthAdjust="spacingAndGlyphs">tt[1 2 3 4 5]</text>
<path d="M312.1,139.4 L328.6,139.4 M313.4,139.4 Q315.6,137.9 317.7,139.4 M318.4,139.4 Q320.5,137.9 322.7,139.4 M323.3,139.4 Q325.5,137.9 327.6,139.4" fill="none" stroke="#ffb300" stroke-width="1.1"/>
<path d="M332,139.4 L344.6,139.4 M333.0,139.4 Q334.6,137.9 336.3,139.4 M336.8,139.4 Q338.4,137.9 340.1,139.4 M340.6,139.4 Q342.2,137.9 343.8,139.4" fill="none" stroke="#0000ff" stroke-width="1.1"/>
<path d="M348.1,139.4 L367.6,139.4 M349.7,139.4 Q352.2,137.9 354.7,139.4 M355.5,139.4 Q358.0,137.9 360.6,139.4 M361.4,139.4 Q363.9,137.9 366.4,139.4" fill="none" stroke="#ff8c8c" stroke-width="1.1"/>
<path d="M369.5,139.4 L387.3,139.4 M370.9,139.4 Q373.2,137.9 375.6,139.4 M376.3,139.4 Q378.6,137.9 380.9,139.4 M381.6,139.4 Q383.9,137.9 386.2,139.4" fill="none" stroke="#e060f0" stroke-width="1.1"/>
<path d="M390,139.4 L407.3,139.4 M391.4,139.4 Q393.6,137.9 395.9,139.4 M396.6,139.4 Q398.8,137.9 401.1,139.4 M401.8,139.4 Q404.0,137.9 406.3,139.4" fill="none" stroke="#007000" stroke-width="1.1"/>
<path d="M408.6,139.4 L422.7,139.4 M409.7,139.4 Q411.6,137.9 413.4,139.4 M414.0,139.4 Q415.8,137.9 417.6,139.4 M418.2,139.4 Q420.0,137.9 421.9,139.4" fill="none" stroke="#ffff00" stroke-width="1.1"/>
<path d="M425,139.4 L442.3,139.4 M426.4,139.4 Q428.6,137.9 430.9,139.4 M431.6,139.4 Q433.8,137.9 436.1,139.4 M436.8,139.4 Q439.0,137.9 441.3,139.4" fill="none" stroke="#00ffff" stroke-width="1.1"/>
<path d="M445,139.4 L461.4,139.4 M446.3,139.4 Q448.4,137.9 450.6,139.4 M451.2,139.4 Q453.4,137.9 455.5,139.4 M456.2,139.4 Q458.3,137.9 460.4,139.4" fill="none" stroke="#ff1466" stroke-width="1.1"/>
<path d="M464.5,139.4 L477.3,139.4 M465.5,139.4 Q467.2,137.9 468.9,139.4 M469.4,139.4 Q471.0,137.9 472.7,139.4 M473.2,139.4 Q474.9,137.9 476.5,139.4" fill="none" stroke="#7b4b3a" stroke-width="1.1"/>
<path d="M480,139.4 L500,139.4 M481.6,139.4 Q484.2,137.9 486.8,139.4 M487.6,139.4 Q490.2,137.9 492.8,139.4 M493.6,139.4 Q496.2,137.9 498.8,139.4" fill="none" stroke="#00ff00" stroke-width="1.1"/>
<path d="M330.6,95.8 L330.6,47.2 L415.4,47.2 L415.4,72.4" fill="none" stroke="#3c3c3c" stroke-width="1.35" stroke-linejoin="miter"/>
<path d="M344.6,135.4 L344.6,95.8 L316.6,95.8" fill="none" stroke="#3c3c3c" stroke-width="1.35" stroke-linejoin="miter"/>
<path d="M387.6,127.8 L387.6,72.4 L443.2,72.4 L443.2,95.2" fill="none" stroke="#3c3c3c" stroke-width="1.35" stroke-linejoin="miter"/>
<path d="M377.3,127.8 L397.8,127.8" fill="none" stroke="#3c3c3c" stroke-width="1.35" stroke-linejoin="miter"/>
<path d="M421,123.8 L421,95.2 L465.3,95.2 L465.3,122.2" fill="none" stroke="#3c3c3c" stroke-width="1.35" stroke-linejoin="miter"/>
<path d="M412.4,123.8 L429.3,123.8" fill="none" stroke="#3c3c3c" stroke-width="1.35" stroke-linejoin="miter"/>
<path d="M452.6,122.2 L477.5,122.2 L477.5,134.6" fill="none" stroke="#3c3c3c" stroke-width="1.35" stroke-linejoin="miter"/>
<path d="M468.8,134.6 L486.2,134.6" fill="none" stroke="#3c3c3c" stroke-width="1.35" stroke-linejoin="miter"/>
<path d="M334.7,135.4 L354.6,135.4" fill="none" stroke="#3c3c3c" stroke-width="1.35" stroke-linejoin="miter"/>
<path d="M316.6,95.8 L316.6,139.0" fill="none" stroke="#ffb300" stroke-width="1.25" stroke-linejoin="miter"/>
<path d="M334.7,135.4 L334.7,139.0" fill="none" stroke="#0000ff" stroke-width="1.25" stroke-linejoin="miter"/>
<path d="M354.6,135.4 L354.6,139.0" fill="none" stroke="#ff8c8c" stroke-width="1.25" stroke-linejoin="miter"/>
<path d="M377.3,127.8 L377.3,139.0" fill="none" stroke="#e060f0" stroke-width="1.25" stroke-linejoin="miter"/>
<path d="M397.8,127.8 L397.8,139.0" fill="none" stroke="#007000" stroke-width="1.25" stroke-linejoin="miter"/>
<path d="M412.4,123.8 L412.4,139.0" fill="none" stroke="#ffff00" stroke-width="1.25" stroke-linejoin="miter"/>
<path d="M429.3,123.8 L429.3,139.0" fill="none" stroke="#00ffff" stroke-width="1.25" stroke-linejoin="miter"/>
<path d="M452.6,122.2 L452.6,139.0" fill="none" stroke="#ff1466" stroke-width="1.25" stroke-linejoin="miter"/>
<path d="M468.8,134.6 L468.8,139.0" fill="none" stroke="#7b4b3a" stroke-width="1.25" stroke-linejoin="miter"/>
<path d="M486.2,134.6 L486.2,139.0" fill="none" stroke="#00ff00" stroke-width="1.25" stroke-linejoin="miter"/>
<line x1="311.80" y1="139.60" x2="311.80" y2="141.60" stroke="#888" stroke-width="0.6" />
<text transform="translate(314.2,157.7) rotate(-90)" font-size="6.4" fill="#3a3a3a" stroke="#3a3a3a" stroke-width="0.06" text-anchor="start" font-family='"Liberation Sans", sans-serif' textLength="13.5" lengthAdjust="spacingAndGlyphs">t30_o</text>
<line x1="321.55" y1="139.60" x2="321.55" y2="141.60" stroke="#888" stroke-width="0.6" />
<text transform="translate(323.9,157.7) rotate(-90)" font-size="6.4" fill="#3a3a3a" stroke="#3a3a3a" stroke-width="0.06" text-anchor="start" font-family='"Liberation Sans", sans-serif' textLength="13.5" lengthAdjust="spacingAndGlyphs">t30_o</text>
<line x1="331.30" y1="139.60" x2="331.30" y2="141.60" stroke="#888" stroke-width="0.6" />
<text transform="translate(333.7,157.7) rotate(-90)" font-size="6.4" fill="#3a3a3a" stroke="#3a3a3a" stroke-width="0.06" text-anchor="start" font-family='"Liberation Sans", sans-serif' textLength="13.5" lengthAdjust="spacingAndGlyphs">t45_o</text>
<line x1="341.05" y1="139.60" x2="341.05" y2="141.60" stroke="#888" stroke-width="0.6" />
<text transform="translate(343.4,157.7) rotate(-90)" font-size="6.4" fill="#3a3a3a" stroke="#3a3a3a" stroke-width="0.06" text-anchor="start" font-family='"Liberation Sans", sans-serif' textLength="13.5" lengthAdjust="spacingAndGlyphs">t45_o</text>
<line x1="350.80" y1="139.60" x2="350.80" y2="141.60" stroke="#888" stroke-width="0.6" />
<text transform="translate(353.2,157.7) rotate(-90)" font-size="6.4" fill="#3a3a3a" stroke="#3a3a3a" stroke-width="0.06" text-anchor="start" font-family='"Liberation Sans", sans-serif' textLength="13.5" lengthAdjust="spacingAndGlyphs">t60_o</text>
<line x1="360.55" y1="139.60" x2="360.55" y2="141.60" stroke="#888" stroke-width="0.6" />
<text transform="translate(362.9,157.7) rotate(-90)" font-size="6.4" fill="#3a3a3a" stroke="#3a3a3a" stroke-width="0.06" text-anchor="start" font-family='"Liberation Sans", sans-serif' textLength="13.5" lengthAdjust="spacingAndGlyphs">t60_o</text>
<line x1="370.30" y1="139.60" x2="370.30" y2="141.60" stroke="#888" stroke-width="0.6" />
<text transform="translate(372.7,157.7) rotate(-90)" font-size="6.4" fill="#3a3a3a" stroke="#3a3a3a" stroke-width="0.06" text-anchor="start" font-family='"Liberation Sans", sans-serif' textLength="13.5" lengthAdjust="spacingAndGlyphs">t15_c</text>
<line x1="380.05" y1="139.60" x2="380.05" y2="141.60" stroke="#888" stroke-width="0.6" />
<text transform="translate(382.4,157.7) rotate(-90)" font-size="6.4" fill="#3a3a3a" stroke="#3a3a3a" stroke-width="0.06" text-anchor="start" font-family='"Liberation Sans", sans-serif' textLength="13.5" lengthAdjust="spacingAndGlyphs">t15_c</text>
<line x1="389.80" y1="139.60" x2="389.80" y2="141.60" stroke="#888" stroke-width="0.6" />
<text transform="translate(392.2,157.7) rotate(-90)" font-size="6.4" fill="#3a3a3a" stroke="#3a3a3a" stroke-width="0.06" text-anchor="start" font-family='"Liberation Sans", sans-serif' textLength="13.5" lengthAdjust="spacingAndGlyphs">t15_o</text>
<line x1="399.55" y1="139.60" x2="399.55" y2="141.60" stroke="#888" stroke-width="0.6" />
<text transform="translate(401.9,157.7) rotate(-90)" font-size="6.4" fill="#3a3a3a" stroke="#3a3a3a" stroke-width="0.06" text-anchor="start" font-family='"Liberation Sans", sans-serif' textLength="13.5" lengthAdjust="spacingAndGlyphs">t15_o</text>
<line x1="409.30" y1="139.60" x2="409.30" y2="141.60" stroke="#888" stroke-width="0.6" />
<text transform="translate(411.7,157.7) rotate(-90)" font-size="6.4" fill="#3a3a3a" stroke="#3a3a3a" stroke-width="0.06" text-anchor="start" font-family='"Liberation Sans", sans-serif' textLength="13.5" lengthAdjust="spacingAndGlyphs">t0_on</text>
<line x1="419.05" y1="139.60" x2="419.05" y2="141.60" stroke="#888" stroke-width="0.6" />
<text transform="translate(421.4,157.7) rotate(-90)" font-size="6.4" fill="#3a3a3a" stroke="#3a3a3a" stroke-width="0.06" text-anchor="start" font-family='"Liberation Sans", sans-serif' textLength="13.5" lengthAdjust="spacingAndGlyphs">t0_on</text>
<line x1="428.80" y1="139.60" x2="428.80" y2="141.60" stroke="#888" stroke-width="0.6" />
<text transform="translate(431.2,157.7) rotate(-90)" font-size="6.4" fill="#3a3a3a" stroke="#3a3a3a" stroke-width="0.06" text-anchor="start" font-family='"Liberation Sans", sans-serif' textLength="13.5" lengthAdjust="spacingAndGlyphs">t0_co</text>
<line x1="438.55" y1="139.60" x2="438.55" y2="141.60" stroke="#888" stroke-width="0.6" />
<text transform="translate(440.9,157.7) rotate(-90)" font-size="6.4" fill="#3a3a3a" stroke="#3a3a3a" stroke-width="0.06" text-anchor="start" font-family='"Liberation Sans", sans-serif' textLength="13.5" lengthAdjust="spacingAndGlyphs">t0_co</text>
<line x1="448.30" y1="139.60" x2="448.30" y2="141.60" stroke="#888" stroke-width="0.6" />
<text transform="translate(450.7,157.7) rotate(-90)" font-size="6.4" fill="#3a3a3a" stroke="#3a3a3a" stroke-width="0.06" text-anchor="start" font-family='"Liberation Sans", sans-serif' textLength="13.5" lengthAdjust="spacingAndGlyphs">t30_c</text>
<line x1="458.05" y1="139.60" x2="458.05" y2="141.60" stroke="#888" stroke-width="0.6" />
<text transform="translate(460.4,157.7) rotate(-90)" font-size="6.4" fill="#3a3a3a" stroke="#3a3a3a" stroke-width="0.06" text-anchor="start" font-family='"Liberation Sans", sans-serif' textLength="13.5" lengthAdjust="spacingAndGlyphs">t30_c</text>
<line x1="467.80" y1="139.60" x2="467.80" y2="141.60" stroke="#888" stroke-width="0.6" />
<text transform="translate(470.2,157.7) rotate(-90)" font-size="6.4" fill="#3a3a3a" stroke="#3a3a3a" stroke-width="0.06" text-anchor="start" font-family='"Liberation Sans", sans-serif' textLength="13.5" lengthAdjust="spacingAndGlyphs">t60_c</text>
<line x1="477.55" y1="139.60" x2="477.55" y2="141.60" stroke="#888" stroke-width="0.6" />
<text transform="translate(479.9,157.7) rotate(-90)" font-size="6.4" fill="#3a3a3a" stroke="#3a3a3a" stroke-width="0.06" text-anchor="start" font-family='"Liberation Sans", sans-serif' textLength="13.5" lengthAdjust="spacingAndGlyphs">t60_c</text>
<line x1="487.30" y1="139.60" x2="487.30" y2="141.60" stroke="#888" stroke-width="0.6" />
<text transform="translate(489.7,157.7) rotate(-90)" font-size="6.4" fill="#3a3a3a" stroke="#3a3a3a" stroke-width="0.06" text-anchor="start" font-family='"Liberation Sans", sans-serif' textLength="13.5" lengthAdjust="spacingAndGlyphs">t45_c</text>
<line x1="497.05" y1="139.60" x2="497.05" y2="141.60" stroke="#888" stroke-width="0.6" />
<text transform="translate(499.4,157.7) rotate(-90)" font-size="6.4" fill="#3a3a3a" stroke="#3a3a3a" stroke-width="0.06" text-anchor="start" font-family='"Liberation Sans", sans-serif' textLength="13.5" lengthAdjust="spacingAndGlyphs">t45_c</text>
<text x="321.3" y="163.6" font-size="6.6" fill="#333" stroke="#333" stroke-width="0.18" text-anchor="start" font-family='"Liberation Mono", monospace' textLength="141.8" lengthAdjust="spacingAndGlyphs" >Calculated with ward and sorted by size.</text>
<text x="9.6" y="186.2" font-size="9.4" fill="#2a2a2a" stroke="#2a2a2a" stroke-width="0.15" text-anchor="start" font-family='"Liberation Sans", sans-serif' textLength="9.6" lengthAdjust="spacingAndGlyphs" >(c)</text>
<text x="117.5" y="185.6" font-size="8.5" fill="#333" stroke="#333" stroke-width="0.1" text-anchor="middle" font-family='"Liberation Sans", sans-serif' textLength="86" lengthAdjust="spacingAndGlyphs" >Scores plot (O2PLS-DA)</text>
<text x="117.2" y="196.8" font-size="8.5" fill="#333" stroke="#333" stroke-width="0.1" text-anchor="middle" font-family='"Liberation Sans", sans-serif' textLength="55" lengthAdjust="spacingAndGlyphs" >control sampes</text>
<text x="117.3" y="208.0" font-size="8.5" fill="#333" stroke="#333" stroke-width="0.1" text-anchor="middle" font-family='"Liberation Sans", sans-serif' textLength="67.3" lengthAdjust="spacingAndGlyphs" >t0, t15,t30, t45, t60</text>
<rect x="228" y="177.4" width="7.1" height="7.2" fill="#1ba6ea" stroke="none" stroke-width="1" />
<text x="237" y="183.1" font-size="6.5" fill="#4a3a5a" stroke="#4a3a5a" stroke-width="0.08" text-anchor="start" font-family='"Liberation Sans", sans-serif' textLength="25.8" lengthAdjust="spacingAndGlyphs" >t0_control</text>
<rect x="228" y="186.25" width="7.1" height="7.2" fill="#ffff00" stroke="none" stroke-width="1" />
<text x="237" y="191.9" font-size="6.5" fill="#4a3a5a" stroke="#4a3a5a" stroke-width="0.08" text-anchor="start" font-family='"Liberation Sans", sans-serif' textLength="29.2" lengthAdjust="spacingAndGlyphs" >t15_control</text>
<rect x="228" y="195.1" width="7.1" height="7.2" fill="#ff8c00" stroke="none" stroke-width="1" />
<text x="237" y="200.8" font-size="6.5" fill="#4a3a5a" stroke="#4a3a5a" stroke-width="0.08" text-anchor="start" font-family='"Liberation Sans", sans-serif' textLength="29.2" lengthAdjust="spacingAndGlyphs" >t30_control</text>
<rect x="228" y="203.95" width="7.1" height="7.2" fill="#ff1466" stroke="none" stroke-width="1" />
<text x="237" y="209.6" font-size="6.5" fill="#4a3a5a" stroke="#4a3a5a" stroke-width="0.08" text-anchor="start" font-family='"Liberation Sans", sans-serif' textLength="29.2" lengthAdjust="spacingAndGlyphs" >t45_control</text>
<rect x="228" y="212.8" width="7.1" height="7.2" fill="#7a4a3a" stroke="none" stroke-width="1" />
<text x="237" y="218.5" font-size="6.5" fill="#4a3a5a" stroke="#4a3a5a" stroke-width="0.08" text-anchor="start" font-family='"Liberation Sans", sans-serif' textLength="29.2" lengthAdjust="spacingAndGlyphs" >t60_control</text>
<rect x="30.1" y="214.5" width="193.70000000000002" height="94.0" fill="#f3f3f3" stroke="none" stroke-width="1" />
<line x1="49.60" y1="214.50" x2="49.60" y2="308.50" stroke="#e3e3e3" stroke-width="0.9" />
<line x1="68.90" y1="214.50" x2="68.90" y2="308.50" stroke="#e3e3e3" stroke-width="0.9" />
<line x1="88.20" y1="214.50" x2="88.20" y2="308.50" stroke="#e3e3e3" stroke-width="0.9" />
<line x1="107.50" y1="214.50" x2="107.50" y2="308.50" stroke="#e3e3e3" stroke-width="0.9" />
<line x1="146.10" y1="214.50" x2="146.10" y2="308.50" stroke="#e3e3e3" stroke-width="0.9" />
<line x1="165.40" y1="214.50" x2="165.40" y2="308.50" stroke="#e3e3e3" stroke-width="0.9" />
<line x1="184.70" y1="214.50" x2="184.70" y2="308.50" stroke="#e3e3e3" stroke-width="0.9" />
<line x1="204.00" y1="214.50" x2="204.00" y2="308.50" stroke="#e3e3e3" stroke-width="0.9" />
<line x1="30.10" y1="297.60" x2="223.80" y2="297.60" stroke="#e3e3e3" stroke-width="0.9" />
<line x1="30.10" y1="285.80" x2="223.80" y2="285.80" stroke="#e3e3e3" stroke-width="0.9" />
<line x1="30.10" y1="274.00" x2="223.80" y2="274.00" stroke="#e3e3e3" stroke-width="0.9" />
<line x1="30.10" y1="250.40" x2="223.80" y2="250.40" stroke="#e3e3e3" stroke-width="0.9" />
<line x1="30.10" y1="238.60" x2="223.80" y2="238.60" stroke="#e3e3e3" stroke-width="0.9" />
<line x1="30.10" y1="226.80" x2="223.80" y2="226.80" stroke="#e3e3e3" stroke-width="0.9" />
<clipPath id="ec2"><ellipse cx="126.8" cy="261.9" rx="93.7" ry="43.5"/></clipPath>
<ellipse cx="126.8" cy="261.9" rx="93.7" ry="43.5" fill="#fff"/>
<g clip-path="url(#ec2)">
<line x1="49.60" y1="214.50" x2="49.60" y2="308.50" stroke="#f1f1f1" stroke-width="0.9" />
<line x1="68.90" y1="214.50" x2="68.90" y2="308.50" stroke="#f1f1f1" stroke-width="0.9" />
<line x1="88.20" y1="214.50" x2="88.20" y2="308.50" stroke="#f1f1f1" stroke-width="0.9" />
<line x1="107.50" y1="214.50" x2="107.50" y2="308.50" stroke="#f1f1f1" stroke-width="0.9" />
<line x1="146.10" y1="214.50" x2="146.10" y2="308.50" stroke="#f1f1f1" stroke-width="0.9" />
<line x1="165.40" y1="214.50" x2="165.40" y2="308.50" stroke="#f1f1f1" stroke-width="0.9" />
<line x1="184.70" y1="214.50" x2="184.70" y2="308.50" stroke="#f1f1f1" stroke-width="0.9" />
<line x1="204.00" y1="214.50" x2="204.00" y2="308.50" stroke="#f1f1f1" stroke-width="0.9" />
<line x1="30.10" y1="297.60" x2="223.80" y2="297.60" stroke="#f1f1f1" stroke-width="0.9" />
<line x1="30.10" y1="285.80" x2="223.80" y2="285.80" stroke="#f1f1f1" stroke-width="0.9" />
<line x1="30.10" y1="274.00" x2="223.80" y2="274.00" stroke="#f1f1f1" stroke-width="0.9" />
<line x1="30.10" y1="250.40" x2="223.80" y2="250.40" stroke="#f1f1f1" stroke-width="0.9" />
<line x1="30.10" y1="238.60" x2="223.80" y2="238.60" stroke="#f1f1f1" stroke-width="0.9" />
<line x1="30.10" y1="226.80" x2="223.80" y2="226.80" stroke="#f1f1f1" stroke-width="0.9" />
</g>
<ellipse cx="126.8" cy="261.9" rx="93.7" ry="43.5" fill="none" stroke="#bababa" stroke-width="0.9"/>
<line x1="126.80" y1="214.50" x2="126.80" y2="308.50" stroke="#a2a2a2" stroke-width="1.05" />
<line x1="30.10" y1="262.20" x2="223.80" y2="262.20" stroke="#a2a2a2" stroke-width="1.05" />
<line x1="30.10" y1="216.50" x2="30.10" y2="308.50" stroke="#8c8c8c" stroke-width="0.8" />
<line x1="30.10" y1="308.50" x2="223.80" y2="308.50" stroke="#8c8c8c" stroke-width="0.8" />
<path d="M28.6,220.0 L30.1,214.5 L31.6,220.0 Z" fill="#8c8c8c"/>
<path d="M217.8,307.0 L223.8,308.5 L217.8,310.0 Z" fill="#8c8c8c"/>
<line x1="30.30" y1="308.50" x2="30.30" y2="310.10" stroke="#a0a0a0" stroke-width="0.6" />
<line x1="35.12" y1="308.50" x2="35.12" y2="310.10" stroke="#a0a0a0" stroke-width="0.6" />
<line x1="39.95" y1="308.50" x2="39.95" y2="310.10" stroke="#a0a0a0" stroke-width="0.6" />
<line x1="44.78" y1="308.50" x2="44.78" y2="310.10" stroke="#a0a0a0" stroke-width="0.6" />
<line x1="49.60" y1="308.50" x2="49.60" y2="310.10" stroke="#a0a0a0" stroke-width="0.6" />
<line x1="54.42" y1="308.50" x2="54.42" y2="310.10" stroke="#a0a0a0" stroke-width="0.6" />
<line x1="59.25" y1="308.50" x2="59.25" y2="310.10" stroke="#a0a0a0" stroke-width="0.6" />
<line x1="64.07" y1="308.50" x2="64.07" y2="310.10" stroke="#a0a0a0" stroke-width="0.6" />
<line x1="68.90" y1="308.50" x2="68.90" y2="310.10" stroke="#a0a0a0" stroke-width="0.6" />
<line x1="73.72" y1="308.50" x2="73.72" y2="310.10" stroke="#a0a0a0" stroke-width="0.6" />
<line x1="78.55" y1="308.50" x2="78.55" y2="310.10" stroke="#a0a0a0" stroke-width="0.6" />
<line x1="83.38" y1="308.50" x2="83.38" y2="310.10" stroke="#a0a0a0" stroke-width="0.6" />
<line x1="88.20" y1="308.50" x2="88.20" y2="310.10" stroke="#a0a0a0" stroke-width="0.6" />
<line x1="93.03" y1="308.50" x2="93.03" y2="310.10" stroke="#a0a0a0" stroke-width="0.6" />
<line x1="97.85" y1="308.50" x2="97.85" y2="310.10" stroke="#a0a0a0" stroke-width="0.6" />
<line x1="102.67" y1="308.50" x2="102.67" y2="310.10" stroke="#a0a0a0" stroke-width="0.6" />
<line x1="107.50" y1="308.50" x2="107.50" y2="310.10" stroke="#a0a0a0" stroke-width="0.6" />
<line x1="112.33" y1="308.50" x2="112.33" y2="310.10" stroke="#a0a0a0" stroke-width="0.6" />
<line x1="117.15" y1="308.50" x2="117.15" y2="310.10" stroke="#a0a0a0" stroke-width="0.6" />
<line x1="121.97" y1="308.50" x2="121.97" y2="310.10" stroke="#a0a0a0" stroke-width="0.6" />
<line x1="126.80" y1="308.50" x2="126.80" y2="310.10" stroke="#a0a0a0" stroke-width="0.6" />
<line x1="131.62" y1="308.50" x2="131.62" y2="310.10" stroke="#a0a0a0" stroke-width="0.6" />
<line x1="136.45" y1="308.50" x2="136.45" y2="310.10" stroke="#a0a0a0" stroke-width="0.6" />
<line x1="141.28" y1="308.50" x2="141.28" y2="310.10" stroke="#a0a0a0" stroke-width="0.6" />
<line x1="146.10" y1="308.50" x2="146.10" y2="310.10" stroke="#a0a0a0" stroke-width="0.6" />
<line x1="150.93" y1="308.50" x2="150.93" y2="310.10" stroke="#a0a0a0" stroke-width="0.6" />
<line x1="155.75" y1="308.50" x2="155.75" y2="310.10" stroke="#a0a0a0" stroke-width="0.6" />
<line x1="160.57" y1="308.50" x2="160.57" y2="310.10" stroke="#a0a0a0" stroke-width="0.6" />
<line x1="165.40" y1="308.50" x2="165.40" y2="310.10" stroke="#a0a0a0" stroke-width="0.6" />
<line x1="170.22" y1="308.50" x2="170.22" y2="310.10" stroke="#a0a0a0" stroke-width="0.6" />
<line x1="175.05" y1="308.50" x2="175.05" y2="310.10" stroke="#a0a0a0" stroke-width="0.6" />
<line x1="179.88" y1="308.50" x2="179.88" y2="310.10" stroke="#a0a0a0" stroke-width="0.6" />
<line x1="184.70" y1="308.50" x2="184.70" y2="310.10" stroke="#a0a0a0" stroke-width="0.6" />
<line x1="189.53" y1="308.50" x2="189.53" y2="310.10" stroke="#a0a0a0" stroke-width="0.6" />
<line x1="194.35" y1="308.50" x2="194.35" y2="310.10" stroke="#a0a0a0" stroke-width="0.6" />
<line x1="199.18" y1="308.50" x2="199.18" y2="310.10" stroke="#a0a0a0" stroke-width="0.6" />
<line x1="204.00" y1="308.50" x2="204.00" y2="310.10" stroke="#a0a0a0" stroke-width="0.6" />
<line x1="208.82" y1="308.50" x2="208.82" y2="310.10" stroke="#a0a0a0" stroke-width="0.6" />
<line x1="213.65" y1="308.50" x2="213.65" y2="310.10" stroke="#a0a0a0" stroke-width="0.6" />
<line x1="218.47" y1="308.50" x2="218.47" y2="310.10" stroke="#a0a0a0" stroke-width="0.6" />
<line x1="28.50" y1="306.45" x2="30.10" y2="306.45" stroke="#a0a0a0" stroke-width="0.6" />
<line x1="28.50" y1="303.50" x2="30.10" y2="303.50" stroke="#a0a0a0" stroke-width="0.6" />
<line x1="28.50" y1="300.55" x2="30.10" y2="300.55" stroke="#a0a0a0" stroke-width="0.6" />
<line x1="28.50" y1="297.60" x2="30.10" y2="297.60" stroke="#a0a0a0" stroke-width="0.6" />
<line x1="28.50" y1="294.65" x2="30.10" y2="294.65" stroke="#a0a0a0" stroke-width="0.6" />
<line x1="28.50" y1="291.70" x2="30.10" y2="291.70" stroke="#a0a0a0" stroke-width="0.6" />
<line x1="28.50" y1="288.75" x2="30.10" y2="288.75" stroke="#a0a0a0" stroke-width="0.6" />
<line x1="28.50" y1="285.80" x2="30.10" y2="285.80" stroke="#a0a0a0" stroke-width="0.6" />
<line x1="28.50" y1="282.85" x2="30.10" y2="282.85" stroke="#a0a0a0" stroke-width="0.6" />
<line x1="28.50" y1="279.90" x2="30.10" y2="279.90" stroke="#a0a0a0" stroke-width="0.6" />
<line x1="28.50" y1="276.95" x2="30.10" y2="276.95" stroke="#a0a0a0" stroke-width="0.6" />
<line x1="28.50" y1="274.00" x2="30.10" y2="274.00" stroke="#a0a0a0" stroke-width="0.6" />
<line x1="28.50" y1="271.05" x2="30.10" y2="271.05" stroke="#a0a0a0" stroke-width="0.6" />
<line x1="28.50" y1="268.10" x2="30.10" y2="268.10" stroke="#a0a0a0" stroke-width="0.6" />
<line x1="28.50" y1="265.15" x2="30.10" y2="265.15" stroke="#a0a0a0" stroke-width="0.6" />
<line x1="28.50" y1="262.20" x2="30.10" y2="262.20" stroke="#a0a0a0" stroke-width="0.6" />
<line x1="28.50" y1="259.25" x2="30.10" y2="259.25" stroke="#a0a0a0" stroke-width="0.6" />
<line x1="28.50" y1="256.30" x2="30.10" y2="256.30" stroke="#a0a0a0" stroke-width="0.6" />
<line x1="28.50" y1="253.35" x2="30.10" y2="253.35" stroke="#a0a0a0" stroke-width="0.6" />
<line x1="28.50" y1="250.40" x2="30.10" y2="250.40" stroke="#a0a0a0" stroke-width="0.6" />
<line x1="28.50" y1="247.45" x2="30.10" y2="247.45" stroke="#a0a0a0" stroke-width="0.6" />
<line x1="28.50" y1="244.50" x2="30.10" y2="244.50" stroke="#a0a0a0" stroke-width="0.6" />
<line x1="28.50" y1="241.55" x2="30.10" y2="241.55" stroke="#a0a0a0" stroke-width="0.6" />
<line x1="28.50" y1="238.60" x2="30.10" y2="238.60" stroke="#a0a0a0" stroke-width="0.6" />
<line x1="28.50" y1="235.65" x2="30.10" y2="235.65" stroke="#a0a0a0" stroke-width="0.6" />
<line x1="28.50" y1="232.70" x2="30.10" y2="232.70" stroke="#a0a0a0" stroke-width="0.6" />
<line x1="28.50" y1="229.75" x2="30.10" y2="229.75" stroke="#a0a0a0" stroke-width="0.6" />
<line x1="28.50" y1="226.80" x2="30.10" y2="226.80" stroke="#a0a0a0" stroke-width="0.6" />
<line x1="28.50" y1="223.85" x2="30.10" y2="223.85" stroke="#a0a0a0" stroke-width="0.6" />
<line x1="28.50" y1="220.90" x2="30.10" y2="220.90" stroke="#a0a0a0" stroke-width="0.6" />
<text x="31.2" y="316.3" font-size="6.2" fill="#2c2c2c" stroke="#2c2c2c" stroke-width="0.12" text-anchor="middle" font-family='"Liberation Sans", sans-serif' >-100</text>
<text x="50.5" y="316.3" font-size="6.2" fill="#2c2c2c" stroke="#2c2c2c" stroke-width="0.12" text-anchor="middle" font-family='"Liberation Sans", sans-serif' >-80</text>
<text x="69.8" y="316.3" font-size="6.2" fill="#2c2c2c" stroke="#2c2c2c" stroke-width="0.12" text-anchor="middle" font-family='"Liberation Sans", sans-serif' >-60</text>
<text x="89.1" y="316.3" font-size="6.2" fill="#2c2c2c" stroke="#2c2c2c" stroke-width="0.12" text-anchor="middle" font-family='"Liberation Sans", sans-serif' >-40</text>
<text x="108.4" y="316.3" font-size="6.2" fill="#2c2c2c" stroke="#2c2c2c" stroke-width="0.12" text-anchor="middle" font-family='"Liberation Sans", sans-serif' >-20</text>
<text x="127.2" y="316.3" font-size="6.2" fill="#2c2c2c" stroke="#2c2c2c" stroke-width="0.12" text-anchor="middle" font-family='"Liberation Sans", sans-serif' >0</text>
<text x="146.5" y="316.3" font-size="6.2" fill="#2c2c2c" stroke="#2c2c2c" stroke-width="0.12" text-anchor="middle" font-family='"Liberation Sans", sans-serif' >20</text>
<text x="165.8" y="316.3" font-size="6.2" fill="#2c2c2c" stroke="#2c2c2c" stroke-width="0.12" text-anchor="middle" font-family='"Liberation Sans", sans-serif' >40</text>
<text x="185.1" y="316.3" font-size="6.2" fill="#2c2c2c" stroke="#2c2c2c" stroke-width="0.12" text-anchor="middle" font-family='"Liberation Sans", sans-serif' >60</text>
<text x="204.4" y="316.3" font-size="6.2" fill="#2c2c2c" stroke="#2c2c2c" stroke-width="0.12" text-anchor="middle" font-family='"Liberation Sans", sans-serif' >80</text>
<text x="26.0" y="228.9" font-size="6.2" fill="#2c2c2c" stroke="#2c2c2c" stroke-width="0.12" text-anchor="end" font-family='"Liberation Sans", sans-serif' >60</text>
<text x="26.0" y="240.7" font-size="6.2" fill="#2c2c2c" stroke="#2c2c2c" stroke-width="0.12" text-anchor="end" font-family='"Liberation Sans", sans-serif' >40</text>
<text x="26.0" y="252.5" font-size="6.2" fill="#2c2c2c" stroke="#2c2c2c" stroke-width="0.12" text-anchor="end" font-family='"Liberation Sans", sans-serif' >20</text>
<text x="26.0" y="264.3" font-size="6.2" fill="#2c2c2c" stroke="#2c2c2c" stroke-width="0.12" text-anchor="end" font-family='"Liberation Sans", sans-serif' >0</text>
<text x="26.0" y="276.1" font-size="6.2" fill="#2c2c2c" stroke="#2c2c2c" stroke-width="0.12" text-anchor="end" font-family='"Liberation Sans", sans-serif' >-20</text>
<text x="26.0" y="287.9" font-size="6.2" fill="#2c2c2c" stroke="#2c2c2c" stroke-width="0.12" text-anchor="end" font-family='"Liberation Sans", sans-serif' >-40</text>
<text x="26.0" y="299.7" font-size="6.2" fill="#2c2c2c" stroke="#2c2c2c" stroke-width="0.12" text-anchor="end" font-family='"Liberation Sans", sans-serif' >-60</text>
<text x="26.0" y="311.5" font-size="6.2" fill="#2c2c2c" stroke="#2c2c2c" stroke-width="0.12" text-anchor="end" font-family='"Liberation Sans", sans-serif' >-80</text>
<text x="109.4" y="325.5" font-size="5.6" fill="#4a5a7a" text-anchor="start" font-family='"Liberation Sans", sans-serif' textLength="33.7" lengthAdjust="spacingAndGlyphs" >1.00594 * t[1]</text>
<text transform="translate(13.4,260.5) rotate(-90)" font-size="5.4" fill="#2a5070" text-anchor="middle" font-family='"Liberation Sans", sans-serif' textLength="34.2" lengthAdjust="spacingAndGlyphs">1.00423 * t[2]</text>
<text x="54.7" y="333.2" font-size="6.3" fill="#4a4a4a" stroke="#4a4a4a" stroke-width="0.05" font-family='"Liberation Mono", monospace' textLength="49.6" lengthAdjust="spacingAndGlyphs"><tspan font-size="5.9">R2X</tspan>[1] = 0.123</text>
<text x="125.5" y="333.2" font-size="6.3" fill="#4a4a4a" stroke="#4a4a4a" stroke-width="0.05" font-family='"Liberation Mono", monospace' textLength="54.5" lengthAdjust="spacingAndGlyphs"><tspan font-size="5.9">R2X</tspan>[2] = 0.0733</text>
<text x="57.5" y="258.4" font-size="6.2" fill="#7a5a4a" stroke="#7a5a4a" stroke-width="0.08" text-anchor="middle" font-family='"Liberation Sans", sans-serif' textLength="13.6" lengthAdjust="spacingAndGlyphs" >t60_c</text>
<text x="78.5" y="251.8" font-size="6.2" fill="#7a5a4a" stroke="#7a5a4a" stroke-width="0.08" text-anchor="middle" font-family='"Liberation Sans", sans-serif' textLength="13.6" lengthAdjust="spacingAndGlyphs" >t60_c</text>
<text x="76.0" y="251.9" font-size="6.2" fill="#7a5a4a" stroke="#7a5a4a" stroke-width="0.08" text-anchor="middle" font-family='"Liberation Sans", sans-serif' textLength="13.6" lengthAdjust="spacingAndGlyphs" >t60_c</text>
<text x="74.0" y="267.0" font-size="6.2" fill="#7a5a4a" stroke="#7a5a4a" stroke-width="0.08" text-anchor="middle" font-family='"Liberation Sans", sans-serif' textLength="13.6" lengthAdjust="spacingAndGlyphs" >t60_c</text>
<text x="78.5" y="269.8" font-size="6.2" fill="#7a5a4a" stroke="#7a5a4a" stroke-width="0.08" text-anchor="middle" font-family='"Liberation Sans", sans-serif' textLength="13.6" lengthAdjust="spacingAndGlyphs" >t60_c</text>
<text x="99.1" y="250.0" font-size="6.2" fill="#e01a5a" stroke="#e01a5a" stroke-width="0.08" text-anchor="middle" font-family='"Liberation Sans", sans-serif' textLength="13.6" lengthAdjust="spacingAndGlyphs" >t45_c</text>
<text x="101.0" y="249.7" font-size="6.2" fill="#e01a5a" stroke="#e01a5a" stroke-width="0.08" text-anchor="middle" font-family='"Liberation Sans", sans-serif' textLength="13.6" lengthAdjust="spacingAndGlyphs" >t45_c</text>
<text x="106.9" y="267.0" font-size="6.2" fill="#e01a5a" stroke="#e01a5a" stroke-width="0.08" text-anchor="middle" font-family='"Liberation Sans", sans-serif' textLength="13.6" lengthAdjust="spacingAndGlyphs" >t45_c</text>
<text x="134.0" y="265.5" font-size="6.2" fill="#e01a5a" stroke="#e01a5a" stroke-width="0.08" text-anchor="middle" font-family='"Liberation Sans", sans-serif' textLength="13.6" lengthAdjust="spacingAndGlyphs" >t45_c</text>
<text x="104.0" y="267.4" font-size="6.2" fill="#e01a5a" stroke="#e01a5a" stroke-width="0.08" text-anchor="middle" font-family='"Liberation Sans", sans-serif' textLength="13.6" lengthAdjust="spacingAndGlyphs" >t45_c</text>
<text x="142.0" y="239.5" font-size="6.2" fill="#e08a10" stroke="#e08a10" stroke-width="0.08" text-anchor="middle" font-family='"Liberation Sans", sans-serif' textLength="13.6" lengthAdjust="spacingAndGlyphs" >t30_c</text>
<text x="140.0" y="249.5" font-size="6.2" fill="#e08a10" stroke="#e08a10" stroke-width="0.08" text-anchor="middle" font-family='"Liberation Sans", sans-serif' textLength="13.6" lengthAdjust="spacingAndGlyphs" >t30_c</text>
<text x="128.0" y="256.9" font-size="6.2" fill="#e08a10" stroke="#e08a10" stroke-width="0.08" text-anchor="middle" font-family='"Liberation Sans", sans-serif' textLength="13.6" lengthAdjust="spacingAndGlyphs" >t30_c</text>
<text x="122.0" y="239.9" font-size="6.2" fill="#e08a10" stroke="#e08a10" stroke-width="0.08" text-anchor="middle" font-family='"Liberation Sans", sans-serif' textLength="13.6" lengthAdjust="spacingAndGlyphs" >t30_c</text>
<text x="165.5" y="255.5" font-size="6.2" fill="#c0c020" stroke="#c0c020" stroke-width="0.08" text-anchor="middle" font-family='"Liberation Sans", sans-serif' textLength="13.6" lengthAdjust="spacingAndGlyphs" >t15_c</text>
<text x="186.4" y="245.5" font-size="6.2" fill="#c0c020" stroke="#c0c020" stroke-width="0.08" text-anchor="middle" font-family='"Liberation Sans", sans-serif' textLength="13.6" lengthAdjust="spacingAndGlyphs" >t15_c</text>
<text x="188.0" y="244.4" font-size="6.2" fill="#c0c020" stroke="#c0c020" stroke-width="0.08" text-anchor="middle" font-family='"Liberation Sans", sans-serif' textLength="13.6" lengthAdjust="spacingAndGlyphs" >t15_c</text>
<text x="183.6" y="264.6" font-size="6.2" fill="#c0c020" stroke="#c0c020" stroke-width="0.08" text-anchor="middle" font-family='"Liberation Sans", sans-serif' textLength="13.6" lengthAdjust="spacingAndGlyphs" >t15_c</text>
<text x="202.7" y="255.1" font-size="6.2" fill="#c0c020" stroke="#c0c020" stroke-width="0.08" text-anchor="middle" font-family='"Liberation Sans", sans-serif' textLength="13.6" lengthAdjust="spacingAndGlyphs" >t15_c</text>
<text x="108.1" y="300.2" font-size="6.2" fill="#1a90d0" stroke="#1a90d0" stroke-width="0.08" text-anchor="middle" font-family='"Liberation Sans", sans-serif' textLength="13.6" lengthAdjust="spacingAndGlyphs" >t0_co</text>
<text x="119.0" y="291.4" font-size="6.2" fill="#1a90d0" stroke="#1a90d0" stroke-width="0.08" text-anchor="middle" font-family='"Liberation Sans", sans-serif' textLength="13.6" lengthAdjust="spacingAndGlyphs" >t0_co</text>
<text x="130.5" y="285.0" font-size="6.2" fill="#1a90d0" stroke="#1a90d0" stroke-width="0.08" text-anchor="middle" font-family='"Liberation Sans", sans-serif' textLength="13.6" lengthAdjust="spacingAndGlyphs" >t0_co</text>
<text x="146.2" y="287.6" font-size="6.2" fill="#1a90d0" stroke="#1a90d0" stroke-width="0.08" text-anchor="middle" font-family='"Liberation Sans", sans-serif' textLength="13.6" lengthAdjust="spacingAndGlyphs" >t0_co</text>
<text x="137.0" y="301.4" font-size="6.2" fill="#1a90d0" stroke="#1a90d0" stroke-width="0.08" text-anchor="middle" font-family='"Liberation Sans", sans-serif' textLength="13.6" lengthAdjust="spacingAndGlyphs" >t0_co</text>
<text x="160.4" y="298.9" font-size="6.2" fill="#1a90d0" stroke="#1a90d0" stroke-width="0.08" text-anchor="middle" font-family='"Liberation Sans", sans-serif' textLength="13.6" lengthAdjust="spacingAndGlyphs" >t0_co</text>
<circle cx="68.8" cy="256.3" r="2.7" fill="#7a4a3a" stroke="#673e31" stroke-width="0.45"/>
<circle cx="74.0" cy="256.3" r="2.7" fill="#7a4a3a" stroke="#673e31" stroke-width="0.45"/>
<circle cx="77.3" cy="256.0" r="2.7" fill="#7a4a3a" stroke="#673e31" stroke-width="0.45"/>
<circle cx="82.2" cy="256.9" r="2.7" fill="#7a4a3a" stroke="#673e31" stroke-width="0.45"/>
<circle cx="88.6" cy="261.5" r="2.7" fill="#7a4a3a" stroke="#673e31" stroke-width="0.45"/>
<circle cx="93.2" cy="259.6" r="2.7" fill="#7a4a3a" stroke="#673e31" stroke-width="0.45"/>
<circle cx="100.1" cy="255.0" r="2.7" fill="#ff1466" stroke="#d81156" stroke-width="0.45"/>
<circle cx="105.5" cy="256.3" r="2.7" fill="#ff1466" stroke="#d81156" stroke-width="0.45"/>
<circle cx="110.2" cy="256.5" r="2.7" fill="#ff1466" stroke="#d81156" stroke-width="0.45"/>
<circle cx="123.3" cy="263.3" r="2.7" fill="#ff1466" stroke="#d81156" stroke-width="0.45"/>
<circle cx="102.0" cy="255.5" r="2.7" fill="#ff1466" stroke="#d81156" stroke-width="0.45"/>
<circle cx="120.7" cy="245.9" r="2.7" fill="#ff8c00" stroke="#d87700" stroke-width="0.45"/>
<circle cx="125.2" cy="247.7" r="2.7" fill="#ff8c00" stroke="#d87700" stroke-width="0.45"/>
<circle cx="129.0" cy="247.0" r="2.7" fill="#ff8c00" stroke="#d87700" stroke-width="0.45"/>
<circle cx="132.4" cy="244.0" r="2.7" fill="#ff8c00" stroke="#d87700" stroke-width="0.45"/>
<circle cx="122.0" cy="246.0" r="2.7" fill="#ff8c00" stroke="#d87700" stroke-width="0.45"/>
<circle cx="174.4" cy="255.0" r="2.7" fill="#ffff00" stroke="#d8d800" stroke-width="0.45"/>
<circle cx="178.6" cy="253.2" r="2.7" fill="#ffff00" stroke="#d8d800" stroke-width="0.45"/>
<circle cx="183.8" cy="255.3" r="2.7" fill="#ffff00" stroke="#d8d800" stroke-width="0.45"/>
<circle cx="187.3" cy="251.8" r="2.7" fill="#ffff00" stroke="#d8d800" stroke-width="0.45"/>
<circle cx="188.6" cy="249.5" r="2.7" fill="#ffff00" stroke="#d8d800" stroke-width="0.45"/>
<circle cx="193.8" cy="253.2" r="2.7" fill="#ffff00" stroke="#d8d800" stroke-width="0.45"/>
<circle cx="119.6" cy="297.9" r="2.7" fill="#1ba6ea" stroke="#168dc6" stroke-width="0.45"/>
<circle cx="130.5" cy="290.5" r="2.7" fill="#1ba6ea" stroke="#168dc6" stroke-width="0.45"/>
<circle cx="137.6" cy="292.0" r="2.7" fill="#1ba6ea" stroke="#168dc6" stroke-width="0.45"/>
<circle cx="149.1" cy="296.3" r="2.7" fill="#1ba6ea" stroke="#168dc6" stroke-width="0.45"/>
<text x="280.5" y="186.2" font-size="9.4" fill="#2a2a2a" stroke="#2a2a2a" stroke-width="0.15" text-anchor="start" font-family='"Liberation Sans", sans-serif' textLength="11.0" lengthAdjust="spacingAndGlyphs" >(d)</text>
<text x="393.1" y="185.6" font-size="8.5" fill="#333" stroke="#333" stroke-width="0.1" text-anchor="middle" font-family='"Liberation Sans", sans-serif' textLength="86" lengthAdjust="spacingAndGlyphs" >Scores plot (O2PLS-DA)</text>
<text x="393" y="196.8" font-size="8.5" fill="#333" stroke="#333" stroke-width="0.1" text-anchor="middle" font-family='"Liberation Sans", sans-serif' textLength="50" lengthAdjust="spacingAndGlyphs" >onion sampes</text>
<text x="392.7" y="208.0" font-size="8.5" fill="#333" stroke="#333" stroke-width="0.1" text-anchor="middle" font-family='"Liberation Sans", sans-serif' textLength="67.3" lengthAdjust="spacingAndGlyphs" >t0, t15,t30, t45, t60</text>
<rect x="505" y="177.9" width="7.7" height="6.6" fill="#bfd41a" stroke="none" stroke-width="1" />
<text x="514.7" y="183.3" font-size="6.5" fill="#4a3a5a" stroke="#4a3a5a" stroke-width="0.08" text-anchor="start" font-family='"Liberation Sans", sans-serif' textLength="22" lengthAdjust="spacingAndGlyphs" >t0_onion</text>
<rect x="505" y="186.62" width="7.7" height="6.6" fill="#1cb8d8" stroke="none" stroke-width="1" />
<text x="514.7" y="192.0" font-size="6.5" fill="#4a3a5a" stroke="#4a3a5a" stroke-width="0.08" text-anchor="start" font-family='"Liberation Sans", sans-serif' textLength="25" lengthAdjust="spacingAndGlyphs" >t15_onion</text>
<rect x="505" y="195.34" width="7.7" height="6.6" fill="#0e7c6b" stroke="none" stroke-width="1" />
<text x="514.7" y="200.7" font-size="6.5" fill="#4a3a5a" stroke="#4a3a5a" stroke-width="0.08" text-anchor="start" font-family='"Liberation Sans", sans-serif' textLength="25" lengthAdjust="spacingAndGlyphs" >t30_onion</text>
<rect x="505" y="204.06" width="7.7" height="6.6" fill="#ff7a6a" stroke="none" stroke-width="1" />
<text x="514.7" y="209.5" font-size="6.5" fill="#4a3a5a" stroke="#4a3a5a" stroke-width="0.08" text-anchor="start" font-family='"Liberation Sans", sans-serif' textLength="25" lengthAdjust="spacingAndGlyphs" >t45_onion</text>
<rect x="505" y="212.78" width="7.7" height="6.6" fill="#6aaad8" stroke="none" stroke-width="1" />
<text x="514.7" y="218.2" font-size="6.5" fill="#4a3a5a" stroke="#4a3a5a" stroke-width="0.08" text-anchor="start" font-family='"Liberation Sans", sans-serif' textLength="25" lengthAdjust="spacingAndGlyphs" >t60_onion</text>
<rect x="307.3" y="215.3" width="193.5" height="93.19999999999999" fill="#f3f3f3" stroke="none" stroke-width="1" />
<line x1="339.60" y1="215.30" x2="339.60" y2="308.50" stroke="#e3e3e3" stroke-width="0.9" />
<line x1="371.90" y1="215.30" x2="371.90" y2="308.50" stroke="#e3e3e3" stroke-width="0.9" />
<line x1="436.50" y1="215.30" x2="436.50" y2="308.50" stroke="#e3e3e3" stroke-width="0.9" />
<line x1="468.80" y1="215.30" x2="468.80" y2="308.50" stroke="#e3e3e3" stroke-width="0.9" />
<line x1="307.30" y1="299.40" x2="500.80" y2="299.40" stroke="#e3e3e3" stroke-width="0.9" />
<line x1="307.30" y1="290.00" x2="500.80" y2="290.00" stroke="#e3e3e3" stroke-width="0.9" />
<line x1="307.30" y1="280.60" x2="500.80" y2="280.60" stroke="#e3e3e3" stroke-width="0.9" />
<line x1="307.30" y1="271.20" x2="500.80" y2="271.20" stroke="#e3e3e3" stroke-width="0.9" />
<line x1="307.30" y1="252.40" x2="500.80" y2="252.40" stroke="#e3e3e3" stroke-width="0.9" />
<line x1="307.30" y1="243.00" x2="500.80" y2="243.00" stroke="#e3e3e3" stroke-width="0.9" />
<line x1="307.30" y1="233.60" x2="500.80" y2="233.60" stroke="#e3e3e3" stroke-width="0.9" />
<line x1="307.30" y1="224.20" x2="500.80" y2="224.20" stroke="#e3e3e3" stroke-width="0.9" />
<clipPath id="ec3"><ellipse cx="403.75" cy="261.9" rx="65.75" ry="39.6"/></clipPath>
<ellipse cx="403.75" cy="261.9" rx="65.75" ry="39.6" fill="#fff"/>
<g clip-path="url(#ec3)">
<line x1="339.60" y1="215.30" x2="339.60" y2="308.50" stroke="#f1f1f1" stroke-width="0.9" />
<line x1="371.90" y1="215.30" x2="371.90" y2="308.50" stroke="#f1f1f1" stroke-width="0.9" />
<line x1="436.50" y1="215.30" x2="436.50" y2="308.50" stroke="#f1f1f1" stroke-width="0.9" />
<line x1="468.80" y1="215.30" x2="468.80" y2="308.50" stroke="#f1f1f1" stroke-width="0.9" />
<line x1="307.30" y1="299.40" x2="500.80" y2="299.40" stroke="#f1f1f1" stroke-width="0.9" />
<line x1="307.30" y1="290.00" x2="500.80" y2="290.00" stroke="#f1f1f1" stroke-width="0.9" />
<line x1="307.30" y1="280.60" x2="500.80" y2="280.60" stroke="#f1f1f1" stroke-width="0.9" />
<line x1="307.30" y1="271.20" x2="500.80" y2="271.20" stroke="#f1f1f1" stroke-width="0.9" />
<line x1="307.30" y1="252.40" x2="500.80" y2="252.40" stroke="#f1f1f1" stroke-width="0.9" />
<line x1="307.30" y1="243.00" x2="500.80" y2="243.00" stroke="#f1f1f1" stroke-width="0.9" />
<line x1="307.30" y1="233.60" x2="500.80" y2="233.60" stroke="#f1f1f1" stroke-width="0.9" />
<line x1="307.30" y1="224.20" x2="500.80" y2="224.20" stroke="#f1f1f1" stroke-width="0.9" />
</g>
<ellipse cx="403.75" cy="261.9" rx="65.75" ry="39.6" fill="none" stroke="#bababa" stroke-width="0.9"/>
<line x1="404.20" y1="215.30" x2="404.20" y2="308.50" stroke="#a2a2a2" stroke-width="1.05" />
<line x1="307.30" y1="261.80" x2="500.80" y2="261.80" stroke="#a2a2a2" stroke-width="1.05" />
<line x1="307.30" y1="217.30" x2="307.30" y2="308.50" stroke="#8c8c8c" stroke-width="0.8" />
<line x1="307.30" y1="308.50" x2="500.80" y2="308.50" stroke="#8c8c8c" stroke-width="0.8" />
<path d="M305.8,220.8 L307.3,215.3 L308.8,220.8 Z" fill="#8c8c8c"/>
<path d="M494.8,307.0 L500.8,308.5 L494.8,310.0 Z" fill="#8c8c8c"/>
<line x1="313.76" y1="308.50" x2="313.76" y2="310.10" stroke="#a0a0a0" stroke-width="0.6" />
<line x1="320.22" y1="308.50" x2="320.22" y2="310.10" stroke="#a0a0a0" stroke-width="0.6" />
<line x1="326.68" y1="308.50" x2="326.68" y2="310.10" stroke="#a0a0a0" stroke-width="0.6" />
<line x1="333.14" y1="308.50" x2="333.14" y2="310.10" stroke="#a0a0a0" stroke-width="0.6" />
<line x1="339.60" y1="308.50" x2="339.60" y2="310.10" stroke="#a0a0a0" stroke-width="0.6" />
<line x1="346.06" y1="308.50" x2="346.06" y2="310.10" stroke="#a0a0a0" stroke-width="0.6" />
<line x1="352.52" y1="308.50" x2="352.52" y2="310.10" stroke="#a0a0a0" stroke-width="0.6" />
<line x1="358.98" y1="308.50" x2="358.98" y2="310.10" stroke="#a0a0a0" stroke-width="0.6" />
<line x1="365.44" y1="308.50" x2="365.44" y2="310.10" stroke="#a0a0a0" stroke-width="0.6" />
<line x1="371.90" y1="308.50" x2="371.90" y2="310.10" stroke="#a0a0a0" stroke-width="0.6" />
<line x1="378.36" y1="308.50" x2="378.36" y2="310.10" stroke="#a0a0a0" stroke-width="0.6" />
<line x1="384.82" y1="308.50" x2="384.82" y2="310.10" stroke="#a0a0a0" stroke-width="0.6" />
<line x1="391.28" y1="308.50" x2="391.28" y2="310.10" stroke="#a0a0a0" stroke-width="0.6" />
<line x1="397.74" y1="308.50" x2="397.74" y2="310.10" stroke="#a0a0a0" stroke-width="0.6" />
<line x1="404.20" y1="308.50" x2="404.20" y2="310.10" stroke="#a0a0a0" stroke-width="0.6" />
<line x1="410.66" y1="308.50" x2="410.66" y2="310.10" stroke="#a0a0a0" stroke-width="0.6" />
<line x1="417.12" y1="308.50" x2="417.12" y2="310.10" stroke="#a0a0a0" stroke-width="0.6" />
<line x1="423.58" y1="308.50" x2="423.58" y2="310.10" stroke="#a0a0a0" stroke-width="0.6" />
<line x1="430.04" y1="308.50" x2="430.04" y2="310.10" stroke="#a0a0a0" stroke-width="0.6" />
<line x1="436.50" y1="308.50" x2="436.50" y2="310.10" stroke="#a0a0a0" stroke-width="0.6" />
<line x1="442.96" y1="308.50" x2="442.96" y2="310.10" stroke="#a0a0a0" stroke-width="0.6" />
<line x1="449.42" y1="308.50" x2="449.42" y2="310.10" stroke="#a0a0a0" stroke-width="0.6" />
<line x1="455.88" y1="308.50" x2="455.88" y2="310.10" stroke="#a0a0a0" stroke-width="0.6" />
<line x1="462.34" y1="308.50" x2="462.34" y2="310.10" stroke="#a0a0a0" stroke-width="0.6" />
<line x1="468.80" y1="308.50" x2="468.80" y2="310.10" stroke="#a0a0a0" stroke-width="0.6" />
<line x1="475.26" y1="308.50" x2="475.26" y2="310.10" stroke="#a0a0a0" stroke-width="0.6" />
<line x1="481.72" y1="308.50" x2="481.72" y2="310.10" stroke="#a0a0a0" stroke-width="0.6" />
<line x1="488.18" y1="308.50" x2="488.18" y2="310.10" stroke="#a0a0a0" stroke-width="0.6" />
<line x1="494.64" y1="308.50" x2="494.64" y2="310.10" stroke="#a0a0a0" stroke-width="0.6" />
<line x1="305.70" y1="306.45" x2="307.30" y2="306.45" stroke="#a0a0a0" stroke-width="0.6" />
<line x1="305.70" y1="304.10" x2="307.30" y2="304.10" stroke="#a0a0a0" stroke-width="0.6" />
<line x1="305.70" y1="301.75" x2="307.30" y2="301.75" stroke="#a0a0a0" stroke-width="0.6" />
<line x1="305.70" y1="299.40" x2="307.30" y2="299.40" stroke="#a0a0a0" stroke-width="0.6" />
<line x1="305.70" y1="297.05" x2="307.30" y2="297.05" stroke="#a0a0a0" stroke-width="0.6" />
<line x1="305.70" y1="294.70" x2="307.30" y2="294.70" stroke="#a0a0a0" stroke-width="0.6" />
<line x1="305.70" y1="292.35" x2="307.30" y2="292.35" stroke="#a0a0a0" stroke-width="0.6" />
<line x1="305.70" y1="290.00" x2="307.30" y2="290.00" stroke="#a0a0a0" stroke-width="0.6" />
<line x1="305.70" y1="287.65" x2="307.30" y2="287.65" stroke="#a0a0a0" stroke-width="0.6" />
<line x1="305.70" y1="285.30" x2="307.30" y2="285.30" stroke="#a0a0a0" stroke-width="0.6" />
<line x1="305.70" y1="282.95" x2="307.30" y2="282.95" stroke="#a0a0a0" stroke-width="0.6" />
<line x1="305.70" y1="280.60" x2="307.30" y2="280.60" stroke="#a0a0a0" stroke-width="0.6" />
<line x1="305.70" y1="278.25" x2="307.30" y2="278.25" stroke="#a0a0a0" stroke-width="0.6" />
<line x1="305.70" y1="275.90" x2="307.30" y2="275.90" stroke="#a0a0a0" stroke-width="0.6" />
<line x1="305.70" y1="273.55" x2="307.30" y2="273.55" stroke="#a0a0a0" stroke-width="0.6" />
<line x1="305.70" y1="271.20" x2="307.30" y2="271.20" stroke="#a0a0a0" stroke-width="0.6" />
<line x1="305.70" y1="268.85" x2="307.30" y2="268.85" stroke="#a0a0a0" stroke-width="0.6" />
<line x1="305.70" y1="266.50" x2="307.30" y2="266.50" stroke="#a0a0a0" stroke-width="0.6" />
<line x1="305.70" y1="264.15" x2="307.30" y2="264.15" stroke="#a0a0a0" stroke-width="0.6" />
<line x1="305.70" y1="261.80" x2="307.30" y2="261.80" stroke="#a0a0a0" stroke-width="0.6" />
<line x1="305.70" y1="259.45" x2="307.30" y2="259.45" stroke="#a0a0a0" stroke-width="0.6" />
<line x1="305.70" y1="257.10" x2="307.30" y2="257.10" stroke="#a0a0a0" stroke-width="0.6" />
<line x1="305.70" y1="254.75" x2="307.30" y2="254.75" stroke="#a0a0a0" stroke-width="0.6" />
<line x1="305.70" y1="252.40" x2="307.30" y2="252.40" stroke="#a0a0a0" stroke-width="0.6" />
<line x1="305.70" y1="250.05" x2="307.30" y2="250.05" stroke="#a0a0a0" stroke-width="0.6" />
<line x1="305.70" y1="247.70" x2="307.30" y2="247.70" stroke="#a0a0a0" stroke-width="0.6" />
<line x1="305.70" y1="245.35" x2="307.30" y2="245.35" stroke="#a0a0a0" stroke-width="0.6" />
<line x1="305.70" y1="243.00" x2="307.30" y2="243.00" stroke="#a0a0a0" stroke-width="0.6" />
<line x1="305.70" y1="240.65" x2="307.30" y2="240.65" stroke="#a0a0a0" stroke-width="0.6" />
<line x1="305.70" y1="238.30" x2="307.30" y2="238.30" stroke="#a0a0a0" stroke-width="0.6" />
<line x1="305.70" y1="235.95" x2="307.30" y2="235.95" stroke="#a0a0a0" stroke-width="0.6" />
<line x1="305.70" y1="233.60" x2="307.30" y2="233.60" stroke="#a0a0a0" stroke-width="0.6" />
<line x1="305.70" y1="231.25" x2="307.30" y2="231.25" stroke="#a0a0a0" stroke-width="0.6" />
<line x1="305.70" y1="228.90" x2="307.30" y2="228.90" stroke="#a0a0a0" stroke-width="0.6" />
<line x1="305.70" y1="226.55" x2="307.30" y2="226.55" stroke="#a0a0a0" stroke-width="0.6" />
<line x1="305.70" y1="224.20" x2="307.30" y2="224.20" stroke="#a0a0a0" stroke-width="0.6" />
<line x1="305.70" y1="221.85" x2="307.30" y2="221.85" stroke="#a0a0a0" stroke-width="0.6" />
<line x1="305.70" y1="219.50" x2="307.30" y2="219.50" stroke="#a0a0a0" stroke-width="0.6" />
<text x="308.2" y="319.0" font-size="6.2" fill="#2c2c2c" stroke="#2c2c2c" stroke-width="0.12" text-anchor="middle" font-family='"Liberation Sans", sans-serif' >-150</text>
<text x="340.5" y="319.0" font-size="6.2" fill="#2c2c2c" stroke="#2c2c2c" stroke-width="0.12" text-anchor="middle" font-family='"Liberation Sans", sans-serif' >-100</text>
<text x="372.8" y="319.0" font-size="6.2" fill="#2c2c2c" stroke="#2c2c2c" stroke-width="0.12" text-anchor="middle" font-family='"Liberation Sans", sans-serif' >-50</text>
<text x="404.6" y="319.0" font-size="6.2" fill="#2c2c2c" stroke="#2c2c2c" stroke-width="0.12" text-anchor="middle" font-family='"Liberation Sans", sans-serif' >0</text>
<text x="436.9" y="319.0" font-size="6.2" fill="#2c2c2c" stroke="#2c2c2c" stroke-width="0.12" text-anchor="middle" font-family='"Liberation Sans", sans-serif' >50</text>
<text x="469.2" y="319.0" font-size="6.2" fill="#2c2c2c" stroke="#2c2c2c" stroke-width="0.12" text-anchor="middle" font-family='"Liberation Sans", sans-serif' >100</text>
<text x="301.8" y="226.3" font-size="6.2" fill="#2c2c2c" stroke="#2c2c2c" stroke-width="0.12" text-anchor="end" font-family='"Liberation Sans", sans-serif' >80</text>
<text x="301.8" y="235.7" font-size="6.2" fill="#2c2c2c" stroke="#2c2c2c" stroke-width="0.12" text-anchor="end" font-family='"Liberation Sans", sans-serif' >60</text>
<text x="301.8" y="245.1" font-size="6.2" fill="#2c2c2c" stroke="#2c2c2c" stroke-width="0.12" text-anchor="end" font-family='"Liberation Sans", sans-serif' >40</text>
<text x="301.8" y="254.5" font-size="6.2" fill="#2c2c2c" stroke="#2c2c2c" stroke-width="0.12" text-anchor="end" font-family='"Liberation Sans", sans-serif' >20</text>
<text x="301.8" y="263.9" font-size="6.2" fill="#2c2c2c" stroke="#2c2c2c" stroke-width="0.12" text-anchor="end" font-family='"Liberation Sans", sans-serif' >0</text>
<text x="301.8" y="273.3" font-size="6.2" fill="#2c2c2c" stroke="#2c2c2c" stroke-width="0.12" text-anchor="end" font-family='"Liberation Sans", sans-serif' >-20</text>
<text x="301.8" y="282.7" font-size="6.2" fill="#2c2c2c" stroke="#2c2c2c" stroke-width="0.12" text-anchor="end" font-family='"Liberation Sans", sans-serif' >-40</text>
<text x="301.8" y="292.1" font-size="6.2" fill="#2c2c2c" stroke="#2c2c2c" stroke-width="0.12" text-anchor="end" font-family='"Liberation Sans", sans-serif' >-60</text>
<text x="301.8" y="301.5" font-size="6.2" fill="#2c2c2c" stroke="#2c2c2c" stroke-width="0.12" text-anchor="end" font-family='"Liberation Sans", sans-serif' >-80</text>
<text x="301.8" y="310.9" font-size="6.2" fill="#2c2c2c" stroke="#2c2c2c" stroke-width="0.12" text-anchor="end" font-family='"Liberation Sans", sans-serif' >-100</text>
<text x="387" y="326" font-size="5.6" fill="#4a5a7a" text-anchor="start" font-family='"Liberation Sans", sans-serif' textLength="33.7" lengthAdjust="spacingAndGlyphs" >1.00114 * t[1]</text>
<text transform="translate(287.0,260.6) rotate(-90)" font-size="5.4" fill="#2a5070" text-anchor="middle" font-family='"Liberation Sans", sans-serif' textLength="33.9" lengthAdjust="spacingAndGlyphs">1.00199 * t[2]</text>
<text x="324.3" y="333.2" font-size="6.3" fill="#4a4a4a" stroke="#4a4a4a" stroke-width="0.05" font-family='"Liberation Mono", monospace' textLength="50.3" lengthAdjust="spacingAndGlyphs"><tspan font-size="5.9">R2X</tspan>[1] = 0.135</text>
<text x="406.5" y="333.2" font-size="6.3" fill="#4a4a4a" stroke="#4a4a4a" stroke-width="0.05" font-family='"Liberation Mono", monospace' textLength="54.6" lengthAdjust="spacingAndGlyphs"><tspan font-size="5.9">R2X</tspan>[2] = 0.0903</text>
<text x="388.1" y="238.2" font-size="6.2" fill="#4a8ab8" stroke="#4a8ab8" stroke-width="0.08" text-anchor="middle" font-family='"Liberation Sans", sans-serif' textLength="13.6" lengthAdjust="spacingAndGlyphs" >t60_o</text>
<text x="400.4" y="239.0" font-size="6.2" fill="#4a8ab8" stroke="#4a8ab8" stroke-width="0.08" text-anchor="middle" font-family='"Liberation Sans", sans-serif' textLength="13.6" lengthAdjust="spacingAndGlyphs" >t60_o</text>
<text x="373.4" y="247.2" font-size="6.2" fill="#4a8ab8" stroke="#4a8ab8" stroke-width="0.08" text-anchor="middle" font-family='"Liberation Sans", sans-serif' textLength="13.6" lengthAdjust="spacingAndGlyphs" >t60_o</text>
<text x="376.0" y="246.9" font-size="6.2" fill="#4a8ab8" stroke="#4a8ab8" stroke-width="0.08" text-anchor="middle" font-family='"Liberation Sans", sans-serif' textLength="13.6" lengthAdjust="spacingAndGlyphs" >t60_o</text>
<text x="402.8" y="248.3" font-size="6.2" fill="#f06050" stroke="#f06050" stroke-width="0.08" text-anchor="middle" font-family='"Liberation Sans", sans-serif' textLength="13.6" lengthAdjust="spacingAndGlyphs" >t45_o</text>
<text x="376.6" y="257.0" font-size="6.2" fill="#f06050" stroke="#f06050" stroke-width="0.08" text-anchor="middle" font-family='"Liberation Sans", sans-serif' textLength="13.6" lengthAdjust="spacingAndGlyphs" >t45_o</text>
<text x="405.3" y="256.5" font-size="6.2" fill="#f06050" stroke="#f06050" stroke-width="0.08" text-anchor="middle" font-family='"Liberation Sans", sans-serif' textLength="13.6" lengthAdjust="spacingAndGlyphs" >t45_o</text>
<text x="393.0" y="265.7" font-size="6.2" fill="#f06050" stroke="#f06050" stroke-width="0.08" text-anchor="middle" font-family='"Liberation Sans", sans-serif' textLength="13.6" lengthAdjust="spacingAndGlyphs" >t45_o</text>
<text x="427.2" y="241.6" font-size="6.2" fill="#a2aa28" stroke="#a2aa28" stroke-width="0.08" text-anchor="middle" font-family='"Liberation Sans", sans-serif' textLength="13.6" lengthAdjust="spacingAndGlyphs" >t0_on</text>
<text x="443.3" y="249.0" font-size="6.2" fill="#a2aa28" stroke="#a2aa28" stroke-width="0.08" text-anchor="middle" font-family='"Liberation Sans", sans-serif' textLength="13.6" lengthAdjust="spacingAndGlyphs" >t0_on</text>
<text x="447.0" y="255.2" font-size="6.2" fill="#a2aa28" stroke="#a2aa28" stroke-width="0.08" text-anchor="middle" font-family='"Liberation Sans", sans-serif' textLength="13.6" lengthAdjust="spacingAndGlyphs" >t0_on</text>
<text x="427.2" y="259.4" font-size="6.2" fill="#a2aa28" stroke="#a2aa28" stroke-width="0.08" text-anchor="middle" font-family='"Liberation Sans", sans-serif' textLength="13.6" lengthAdjust="spacingAndGlyphs" >t0_on</text>
<text x="447.0" y="268.8" font-size="6.2" fill="#10a0c0" stroke="#10a0c0" stroke-width="0.08" text-anchor="middle" font-family='"Liberation Sans", sans-serif' textLength="13.6" lengthAdjust="spacingAndGlyphs" >t15_o</text>
<text x="421.0" y="276.7" font-size="6.2" fill="#10a0c0" stroke="#10a0c0" stroke-width="0.08" text-anchor="middle" font-family='"Liberation Sans", sans-serif' textLength="13.6" lengthAdjust="spacingAndGlyphs" >t15_o</text>
<text x="423.0" y="276.4" font-size="6.2" fill="#10a0c0" stroke="#10a0c0" stroke-width="0.08" text-anchor="middle" font-family='"Liberation Sans", sans-serif' textLength="13.6" lengthAdjust="spacingAndGlyphs" >t15_o</text>
<text x="451.9" y="279.9" font-size="6.2" fill="#10a0c0" stroke="#10a0c0" stroke-width="0.08" text-anchor="middle" font-family='"Liberation Sans", sans-serif' textLength="13.6" lengthAdjust="spacingAndGlyphs" >t15_o</text>
<text x="426.0" y="285.5" font-size="6.2" fill="#10a0c0" stroke="#10a0c0" stroke-width="0.08" text-anchor="middle" font-family='"Liberation Sans", sans-serif' textLength="13.6" lengthAdjust="spacingAndGlyphs" >t15_o</text>
<text x="374.9" y="273.8" font-size="6.2" fill="#0e7c6b" stroke="#0e7c6b" stroke-width="0.08" text-anchor="middle" font-family='"Liberation Sans", sans-serif' textLength="13.6" lengthAdjust="spacingAndGlyphs" >t30_o</text>
<text x="376.0" y="272.9" font-size="6.2" fill="#0e7c6b" stroke="#0e7c6b" stroke-width="0.08" text-anchor="middle" font-family='"Liberation Sans", sans-serif' textLength="13.6" lengthAdjust="spacingAndGlyphs" >t30_o</text>
<text x="359.6" y="283.4" font-size="6.2" fill="#0e7c6b" stroke="#0e7c6b" stroke-width="0.08" text-anchor="middle" font-family='"Liberation Sans", sans-serif' textLength="13.6" lengthAdjust="spacingAndGlyphs" >t30_o</text>
<text x="386.5" y="281.9" font-size="6.2" fill="#0e7c6b" stroke="#0e7c6b" stroke-width="0.08" text-anchor="middle" font-family='"Liberation Sans", sans-serif' textLength="13.6" lengthAdjust="spacingAndGlyphs" >t30_o</text>
<text x="372.7" y="293.1" font-size="6.2" fill="#0e7c6b" stroke="#0e7c6b" stroke-width="0.08" text-anchor="middle" font-family='"Liberation Sans", sans-serif' textLength="13.6" lengthAdjust="spacingAndGlyphs" >t30_o</text>
<circle cx="387.0" cy="244.1" r="2.7" fill="#4a9fd0" stroke="#3e87b0" stroke-width="0.45"/>
<circle cx="389.7" cy="243.2" r="2.7" fill="#4a9fd0" stroke="#3e87b0" stroke-width="0.45"/>
<circle cx="392.2" cy="244.5" r="2.7" fill="#4a9fd0" stroke="#3e87b0" stroke-width="0.45"/>
<circle cx="387.6" cy="246.9" r="2.7" fill="#4a9fd0" stroke="#3e87b0" stroke-width="0.45"/>
<circle cx="390.9" cy="246.9" r="2.7" fill="#4a9fd0" stroke="#3e87b0" stroke-width="0.45"/>
<circle cx="393.0" cy="247.4" r="2.7" fill="#4a9fd0" stroke="#3e87b0" stroke-width="0.45"/>
<circle cx="387.3" cy="255.1" r="2.7" fill="#f36b5c" stroke="#ce5a4e" stroke-width="0.45"/>
<circle cx="390.6" cy="254.3" r="2.7" fill="#f36b5c" stroke="#ce5a4e" stroke-width="0.45"/>
<circle cx="393.0" cy="253.5" r="2.7" fill="#f36b5c" stroke="#ce5a4e" stroke-width="0.45"/>
<circle cx="393.8" cy="255.9" r="2.7" fill="#f36b5c" stroke="#ce5a4e" stroke-width="0.45"/>
<circle cx="391.4" cy="256.7" r="2.7" fill="#f36b5c" stroke="#ce5a4e" stroke-width="0.45"/>
<circle cx="427.7" cy="247.6" r="2.7" fill="#b8cc18" stroke="#9cad14" stroke-width="0.45"/>
<circle cx="430.9" cy="248.3" r="2.7" fill="#b8cc18" stroke="#9cad14" stroke-width="0.45"/>
<circle cx="429.0" cy="251.5" r="2.7" fill="#b8cc18" stroke="#9cad14" stroke-width="0.45"/>
<circle cx="435.9" cy="253.3" r="2.7" fill="#b8cc18" stroke="#9cad14" stroke-width="0.45"/>
<circle cx="432.2" cy="274.3" r="2.7" fill="#18b0d4" stroke="#1495b4" stroke-width="0.45"/>
<circle cx="436.6" cy="273.0" r="2.7" fill="#18b0d4" stroke="#1495b4" stroke-width="0.45"/>
<circle cx="437.6" cy="276.7" r="2.7" fill="#18b0d4" stroke="#1495b4" stroke-width="0.45"/>
<circle cx="441.5" cy="278.7" r="2.7" fill="#18b0d4" stroke="#1495b4" stroke-width="0.45"/>
<circle cx="371.7" cy="280.3" r="2.7" fill="#0e7c6b" stroke="#0b695a" stroke-width="0.45"/>
<circle cx="374.9" cy="279.2" r="2.7" fill="#0e7c6b" stroke="#0b695a" stroke-width="0.45"/>
<circle cx="378.0" cy="279.6" r="2.7" fill="#0e7c6b" stroke="#0b695a" stroke-width="0.45"/>
<circle cx="372.7" cy="284.0" r="2.7" fill="#0e7c6b" stroke="#0b695a" stroke-width="0.45"/>
<circle cx="371.2" cy="281.8" r="2.7" fill="#0e7c6b" stroke="#0b695a" stroke-width="0.45"/>
</svg>
</body></html>
